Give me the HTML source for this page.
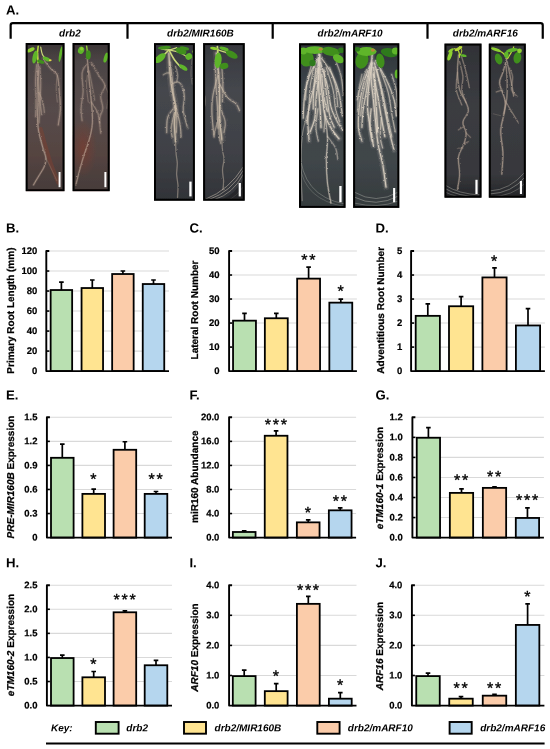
<!DOCTYPE html>
<html lang="en"><head><meta charset="utf-8"><title>Figure</title>
<style>html,body{margin:0;padding:0;background:#fff}svg{display:block}text{font-family:"Liberation Sans",sans-serif;fill:#000;text-rendering:geometricPrecision}</style></head><body>
<svg width="550" height="749" viewBox="0 0 550 749">
<rect width="550" height="749" fill="#fff"/>
<text transform="rotate(0.05 6 14.4)" x="6" y="14.4" font-size="13.2" font-weight="bold">A.</text>
<path d="M10.65 38.8V25.3Q10.65 23.1 12.85 23.1H540.55Q542.75 23.1 542.75 25.3V38.8M127.5 23.1V38.8M272.7 23.1V38.8M427.5 23.1V38.8" fill="none" stroke="#000" stroke-width="2.2"/>
<text transform="rotate(0.05 69.9 36.5)" x="69.9" y="36.5" font-size="10" font-weight="bold" font-style="italic" text-anchor="middle">drb2</text>
<text transform="rotate(0.05 200.4 36.5)" x="200.4" y="36.5" font-size="10" font-weight="bold" font-style="italic" text-anchor="middle">drb2/MIR160B</text>
<text transform="rotate(0.05 350.1 36.5)" x="350.1" y="36.5" font-size="10" font-weight="bold" font-style="italic" text-anchor="middle">drb2/mARF10</text>
<text transform="rotate(0.05 485.3 36.5)" x="485.3" y="36.5" font-size="10" font-weight="bold" font-style="italic" text-anchor="middle">drb2/mARF16</text>
<defs><filter id="soft" x="-2%" y="-2%" width="104%" height="104%"><feGaussianBlur stdDeviation="0.4"/></filter><filter id="rough" x="-5%" y="-5%" width="110%" height="110%"><feTurbulence type="fractalNoise" baseFrequency="0.45" numOctaves="2" seed="3" result="n"/><feDisplacementMap in="SourceGraphic" in2="n" scale="2.2" xChannelSelector="R" yChannelSelector="G"/></filter><linearGradient id="bg1" x1="0" y1="0" x2="0" y2="1"><stop offset="0" stop-color="#3a3435"/><stop offset="0.12" stop-color="#4c4445"/><stop offset="0.45" stop-color="#564b4b"/><stop offset="0.75" stop-color="#554441"/><stop offset="1" stop-color="#463c3a"/></linearGradient><linearGradient id="bg2" x1="0" y1="0" x2="0" y2="1"><stop offset="0" stop-color="#36383d"/><stop offset="0.3" stop-color="#45474d"/><stop offset="0.7" stop-color="#3f4146"/><stop offset="1" stop-color="#313338"/></linearGradient><linearGradient id="bg3" x1="0" y1="0" x2="0" y2="1"><stop offset="0" stop-color="#2c3236"/><stop offset="0.25" stop-color="#3d444a"/><stop offset="0.7" stop-color="#40464a"/><stop offset="1" stop-color="#353b3d"/></linearGradient><linearGradient id="bg4" x1="0" y1="0" x2="0" y2="1"><stop offset="0" stop-color="#303236"/><stop offset="0.4" stop-color="#3b3c41"/><stop offset="0.85" stop-color="#37383c"/><stop offset="1" stop-color="#242528"/></linearGradient><radialGradient id="red1" cx="0.5" cy="0.5" r="0.5"><stop offset="0" stop-color="#8a3a28" stop-opacity="0.5"/><stop offset="1" stop-color="#8a3a28" stop-opacity="0"/></radialGradient></defs>
<g filter="url(#soft)">
<clipPath id="c1"><rect x="25.8" y="43.1" width="38.6" height="148"/></clipPath>
<rect x="25.8" y="43.1" width="38.6" height="148" fill="url(#bg1)"/>
<g clip-path="url(#c1)">
<path d="M40.7 129C41.6 132.1 44.1 141.8 45.9 147.6C47.6 153.5 49 158.3 51 164.2C53.1 170 57.1 179.7 58.3 182.8" fill="none" stroke="#85402f" stroke-width="4" stroke-opacity="0.45" stroke-linecap="round"/>
<g filter="url(#rough)" fill="none" stroke-linecap="round" stroke-linejoin="round">
<path d="M37.6 52.4C37.7 54.8 38.2 62.1 38.2 66.9C38.2 71.7 37.6 76.2 37.6 81.4C37.6 86.6 38.2 92.1 38.2 97.9C38.2 103.8 37.5 111.1 37.6 116.6C37.7 122.1 37.8 125.9 38.6 131.1C39.5 136.2 41.6 143.1 42.8 147.6C44 152.1 45.6 154.9 45.9 158C46.1 161.1 45.5 163.5 44.4 166.2C43.4 169 41.5 171.4 39.7 174.5C37.8 177.6 34.5 183.1 33.5 184.9" stroke="#bfa797" stroke-width="2.5" stroke-opacity="0.1"/>
<path d="M37.6 52.4C37.7 54.8 38.2 62.1 38.2 66.9C38.2 71.7 37.6 76.2 37.6 81.4C37.6 86.6 38.2 92.1 38.2 97.9C38.2 103.8 37.5 111.1 37.6 116.6C37.7 122.1 37.8 125.9 38.6 131.1C39.5 136.2 41.6 143.1 42.8 147.6C44 152.1 45.6 154.9 45.9 158C46.1 161.1 45.5 163.5 44.4 166.2C43.4 169 41.5 171.4 39.7 174.5C37.8 177.6 34.5 183.1 33.5 184.9" stroke="#bfa797" stroke-width="2.1" stroke-opacity="0.2"/>
<path d="M37.6 52.4C37.7 54.8 38.2 62.1 38.2 66.9C38.2 71.7 37.6 76.2 37.6 81.4C37.6 86.6 38.2 92.1 38.2 97.9C38.2 103.8 37.5 111.1 37.6 116.6C37.7 122.1 37.8 125.9 38.6 131.1C39.5 136.2 41.6 143.1 42.8 147.6C44 152.1 45.6 154.9 45.9 158C46.1 161.1 45.5 163.5 44.4 166.2C43.4 169 41.5 171.4 39.7 174.5C37.8 177.6 34.5 183.1 33.5 184.9" stroke="#bfa797" stroke-width="0.8" stroke-opacity="0.8"/>
<path d="M36.6 64.8C36.4 67.6 35.6 75.5 35.5 81.4C35.5 87.3 36.1 94.2 36.1 100C36.2 105.9 35.8 113.8 35.7 116.6" stroke="#bfa797" stroke-width="3.8" stroke-opacity="0.1"/>
<path d="M36.6 64.8C36.4 67.6 35.6 75.5 35.5 81.4C35.5 87.3 36.1 94.2 36.1 100C36.2 105.9 35.8 113.8 35.7 116.6" stroke="#bfa797" stroke-width="1.9" stroke-opacity="0.2"/>
<path d="M36.6 64.8C36.4 67.6 35.6 75.5 35.5 81.4C35.5 87.3 36.1 94.2 36.1 100C36.2 105.9 35.8 113.8 35.7 116.6" stroke="#bfa797" stroke-width="0.7" stroke-opacity="0.6"/>
<path d="M39.7 66.9C39.8 69.7 40.6 77.6 40.7 83.5C40.8 89.3 40.1 96.9 40.3 102.1C40.5 107.3 41.5 112.4 41.7 114.5" stroke="#bfa797" stroke-width="3.8" stroke-opacity="0.1"/>
<path d="M39.7 66.9C39.8 69.7 40.6 77.6 40.7 83.5C40.8 89.3 40.1 96.9 40.3 102.1C40.5 107.3 41.5 112.4 41.7 114.5" stroke="#bfa797" stroke-width="1.9" stroke-opacity="0.2"/>
<path d="M39.7 66.9C39.8 69.7 40.6 77.6 40.7 83.5C40.8 89.3 40.1 96.9 40.3 102.1C40.5 107.3 41.5 112.4 41.7 114.5" stroke="#bfa797" stroke-width="0.7" stroke-opacity="0.6"/>
<path d="M38.2 71C38.3 74.5 38.8 85.5 39 91.7C39.3 97.9 39.7 103.1 39.7 108.3C39.7 113.5 39.1 120.4 39 122.8" stroke="#bfa797" stroke-width="3.4" stroke-opacity="0.1"/>
<path d="M38.2 71C38.3 74.5 38.8 85.5 39 91.7C39.3 97.9 39.7 103.1 39.7 108.3C39.7 113.5 39.1 120.4 39 122.8" stroke="#bfa797" stroke-width="1.7" stroke-opacity="0.2"/>
<path d="M38.2 71C38.3 74.5 38.8 85.5 39 91.7C39.3 97.9 39.7 103.1 39.7 108.3C39.7 113.5 39.1 120.4 39 122.8" stroke="#bfa797" stroke-width="0.6" stroke-opacity="0.6"/>
<path d="M38.6 91.7C39.3 93.5 41.8 98.6 42.8 102.1C43.7 105.5 44.1 110.7 44.4 112.4" stroke="#bfa797" stroke-width="2.9" stroke-opacity="0.1"/>
<path d="M38.6 91.7C39.3 93.5 41.8 98.6 42.8 102.1C43.7 105.5 44.1 110.7 44.4 112.4" stroke="#bfa797" stroke-width="1.5" stroke-opacity="0.2"/>
<path d="M38.6 91.7C39.3 93.5 41.8 98.6 42.8 102.1C43.7 105.5 44.1 110.7 44.4 112.4" stroke="#bfa797" stroke-width="0.6" stroke-opacity="0.6"/>
<path d="M42.8 58.6C44.1 60.4 48.6 66.2 51 69C53.5 71.7 55.9 71.4 57.3 75.2C58.6 79 58.8 86.2 59.3 91.7C59.8 97.3 60.5 102.8 60.4 108.3C60.2 113.8 58.6 122.1 58.3 124.9" stroke="#bfa797" stroke-width="3.8" stroke-opacity="0.1"/>
<path d="M42.8 58.6C44.1 60.4 48.6 66.2 51 69C53.5 71.7 55.9 71.4 57.3 75.2C58.6 79 58.8 86.2 59.3 91.7C59.8 97.3 60.5 102.8 60.4 108.3C60.2 113.8 58.6 122.1 58.3 124.9" stroke="#bfa797" stroke-width="1.9" stroke-opacity="0.2"/>
<path d="M42.8 58.6C44.1 60.4 48.6 66.2 51 69C53.5 71.7 55.9 71.4 57.3 75.2C58.6 79 58.8 86.2 59.3 91.7C59.8 97.3 60.5 102.8 60.4 108.3C60.2 113.8 58.6 122.1 58.3 124.9" stroke="#bfa797" stroke-width="0.7" stroke-opacity="0.8"/>
<path d="M57.3 75.2C57.1 77.3 56.2 83.1 56.2 87.6C56.2 92.1 57.1 99.7 57.3 102.1" stroke="#bfa797" stroke-width="2.9" stroke-opacity="0"/>
<path d="M57.3 75.2C57.1 77.3 56.2 83.1 56.2 87.6C56.2 92.1 57.1 99.7 57.3 102.1" stroke="#bfa797" stroke-width="1.5" stroke-opacity="0.1"/>
<path d="M57.3 75.2C57.1 77.3 56.2 83.1 56.2 87.6C56.2 92.1 57.1 99.7 57.3 102.1" stroke="#bfa797" stroke-width="0.6" stroke-opacity="0.5"/>
<path d="M45.9 158C46.7 159.7 49.2 164.5 51 168.3C52.9 172.1 55.9 178.7 56.8 180.7" stroke="#bfa797" stroke-width="1" stroke-opacity="0"/>
<path d="M45.9 158C46.7 159.7 49.2 164.5 51 168.3C52.9 172.1 55.9 178.7 56.8 180.7" stroke="#bfa797" stroke-width="1.3" stroke-opacity="0.1"/>
<path d="M45.9 158C46.7 159.7 49.2 164.5 51 168.3C52.9 172.1 55.9 178.7 56.8 180.7" stroke="#bfa797" stroke-width="0.5" stroke-opacity="0.3"/>
</g>
<path d="M38.2 46.2C38.1 47.6 37.4 51.7 37.4 54.5C37.4 57.2 38.1 61.4 38.2 62.8" fill="none" stroke="#b7d83a" stroke-width="1.6" stroke-linecap="round"/>
<path d="M40.7 47.2C41 48.5 41.4 52.4 42.4 54.5C43.3 56.6 45.8 58.8 46.5 59.7" fill="none" stroke="#c9d77a" stroke-width="1.2" stroke-linecap="round"/>
<ellipse cx="34.9" cy="57" rx="2.3" ry="6.6" fill="#5fb52a" transform="rotate(12 34.9 57)"/>
<ellipse cx="30.8" cy="49.9" rx="4.1" ry="1.9" fill="#8fd031" transform="rotate(-25 30.8 49.9)"/>
<ellipse cx="46.5" cy="59" rx="4.1" ry="1.9" fill="#5fb52a" transform="rotate(25 46.5 59)"/>
<ellipse cx="40.7" cy="61.7" rx="3.7" ry="1.7" fill="#3f8f1f" transform="rotate(20 40.7 61.7)"/>
<ellipse cx="60.6" cy="54.1" rx="1.4" ry="7.9" fill="#5fb52a" transform="rotate(10 60.6 54.1)"/>
<ellipse cx="50.2" cy="60.3" rx="1.4" ry="1" fill="#e0d848" transform="rotate(0 50.2 60.3)"/>
</g>
<rect x="26.7" y="44" width="36.8" height="146.2" fill="none" stroke="#060606" stroke-width="2"/>
<rect x="58.6" y="172" width="1.9" height="15.2" fill="#fff"/>
<clipPath id="c2"><rect x="72.7" y="43.1" width="36.9" height="148"/></clipPath>
<rect x="72.7" y="43.1" width="36.9" height="148" fill="url(#bg1)"/>
<g clip-path="url(#c2)">
<ellipse cx="83" cy="148" rx="14" ry="30" fill="url(#red1)"/>
<g filter="url(#rough)" fill="none" stroke-linecap="round" stroke-linejoin="round">
<path d="M87.3 58.6C87.6 62.4 88.6 74.1 89.3 81.4C90 88.6 90.9 95.2 91.4 102.1C91.9 109 92.8 116.6 92.4 122.8C92.1 129 90.9 133.5 89.3 139.3C87.8 145.2 84.8 152.4 83.1 158C81.4 163.5 80.2 168 79 172.5C77.8 176.9 76.4 182.8 75.9 184.9" stroke="#bfa797" stroke-width="2.3" stroke-opacity="0.1"/>
<path d="M87.3 58.6C87.6 62.4 88.6 74.1 89.3 81.4C90 88.6 90.9 95.2 91.4 102.1C91.9 109 92.8 116.6 92.4 122.8C92.1 129 90.9 133.5 89.3 139.3C87.8 145.2 84.8 152.4 83.1 158C81.4 163.5 80.2 168 79 172.5C77.8 176.9 76.4 182.8 75.9 184.9" stroke="#bfa797" stroke-width="1.9" stroke-opacity="0.2"/>
<path d="M87.3 58.6C87.6 62.4 88.6 74.1 89.3 81.4C90 88.6 90.9 95.2 91.4 102.1C91.9 109 92.8 116.6 92.4 122.8C92.1 129 90.9 133.5 89.3 139.3C87.8 145.2 84.8 152.4 83.1 158C81.4 163.5 80.2 168 79 172.5C77.8 176.9 76.4 182.8 75.9 184.9" stroke="#bfa797" stroke-width="0.7" stroke-opacity="0.8"/>
<path d="M86.2 64.8C85.5 66.2 82.6 68.6 82.1 73.1C81.6 77.6 83.3 85.9 83.1 91.7C82.9 97.6 81.2 103.5 81.1 108.3C80.9 113.1 81.9 118.6 82.1 120.7" stroke="#bfa797" stroke-width="3.4" stroke-opacity="0.1"/>
<path d="M86.2 64.8C85.5 66.2 82.6 68.6 82.1 73.1C81.6 77.6 83.3 85.9 83.1 91.7C82.9 97.6 81.2 103.5 81.1 108.3C80.9 113.1 81.9 118.6 82.1 120.7" stroke="#bfa797" stroke-width="1.7" stroke-opacity="0.2"/>
<path d="M86.2 64.8C85.5 66.2 82.6 68.6 82.1 73.1C81.6 77.6 83.3 85.9 83.1 91.7C82.9 97.6 81.2 103.5 81.1 108.3C80.9 113.1 81.9 118.6 82.1 120.7" stroke="#bfa797" stroke-width="0.6" stroke-opacity="0.6"/>
<path d="M91.4 62.8C92.6 64.8 96.4 71.4 98.6 75.2C100.9 79 104.5 82.1 104.9 85.5C105.2 89 101.1 92.1 100.7 95.9C100.4 99.7 103 104.5 102.8 108.3C102.6 112.1 100 114.5 99.7 118.6C99.3 122.8 100.5 130.7 100.7 133.1" stroke="#bfa797" stroke-width="3.4" stroke-opacity="0.1"/>
<path d="M91.4 62.8C92.6 64.8 96.4 71.4 98.6 75.2C100.9 79 104.5 82.1 104.9 85.5C105.2 89 101.1 92.1 100.7 95.9C100.4 99.7 103 104.5 102.8 108.3C102.6 112.1 100 114.5 99.7 118.6C99.3 122.8 100.5 130.7 100.7 133.1" stroke="#bfa797" stroke-width="1.7" stroke-opacity="0.2"/>
<path d="M91.4 62.8C92.6 64.8 96.4 71.4 98.6 75.2C100.9 79 104.5 82.1 104.9 85.5C105.2 89 101.1 92.1 100.7 95.9C100.4 99.7 103 104.5 102.8 108.3C102.6 112.1 100 114.5 99.7 118.6C99.3 122.8 100.5 130.7 100.7 133.1" stroke="#bfa797" stroke-width="0.6" stroke-opacity="0.6"/>
<path d="M91.4 102.1C92.4 103.8 96.2 109 97.6 112.4C99 115.9 99.3 121.1 99.7 122.8" stroke="#bfa797" stroke-width="2.9" stroke-opacity="0.1"/>
<path d="M91.4 102.1C92.4 103.8 96.2 109 97.6 112.4C99 115.9 99.3 121.1 99.7 122.8" stroke="#bfa797" stroke-width="1.5" stroke-opacity="0.2"/>
<path d="M91.4 102.1C92.4 103.8 96.2 109 97.6 112.4C99 115.9 99.3 121.1 99.7 122.8" stroke="#bfa797" stroke-width="0.6" stroke-opacity="0.6"/>
<path d="M89.3 71C89.8 73.8 91.6 82.8 92.4 87.6C93.3 92.4 94.2 97.9 94.5 100" stroke="#bfa797" stroke-width="2.9" stroke-opacity="0.1"/>
<path d="M89.3 71C89.8 73.8 91.6 82.8 92.4 87.6C93.3 92.4 94.2 97.9 94.5 100" stroke="#bfa797" stroke-width="1.5" stroke-opacity="0.1"/>
<path d="M89.3 71C89.8 73.8 91.6 82.8 92.4 87.6C93.3 92.4 94.2 97.9 94.5 100" stroke="#bfa797" stroke-width="0.6" stroke-opacity="0.5"/>
<path d="M104.9 85.5C105.4 86.9 107.6 90 108 93.8C108.3 97.6 107.1 105.9 106.9 108.3" stroke="#bfa797" stroke-width="2.5" stroke-opacity="0"/>
<path d="M104.9 85.5C105.4 86.9 107.6 90 108 93.8C108.3 97.6 107.1 105.9 106.9 108.3" stroke="#bfa797" stroke-width="1.3" stroke-opacity="0.1"/>
<path d="M104.9 85.5C105.4 86.9 107.6 90 108 93.8C108.3 97.6 107.1 105.9 106.9 108.3" stroke="#bfa797" stroke-width="0.5" stroke-opacity="0.5"/>
<path d="M88.3 66.9C88 70 86.6 79.7 86.6 85.5C86.6 91.4 88 99.3 88.3 102.1" stroke="#bfa797" stroke-width="2.9" stroke-opacity="0"/>
<path d="M88.3 66.9C88 70 86.6 79.7 86.6 85.5C86.6 91.4 88 99.3 88.3 102.1" stroke="#bfa797" stroke-width="1.5" stroke-opacity="0.1"/>
<path d="M88.3 66.9C88 70 86.6 79.7 86.6 85.5C86.6 91.4 88 99.3 88.3 102.1" stroke="#bfa797" stroke-width="0.6" stroke-opacity="0.5"/>
</g>
<path d="M86.6 46.2C86.8 47.2 87.2 50.3 87.5 52.4C87.7 54.5 88.2 57.6 88.3 58.6" fill="none" stroke="#8fd031" stroke-width="1.4" stroke-linecap="round"/>
<ellipse cx="81.1" cy="50.3" rx="3.1" ry="3.7" fill="#5fb52a" transform="rotate(20 81.1 50.3)"/>
<ellipse cx="88.3" cy="54.9" rx="2.5" ry="4.6" fill="#3f8f1f" transform="rotate(0 88.3 54.9)"/>
<ellipse cx="105.9" cy="57.6" rx="1.9" ry="5.2" fill="#5fb52a" transform="rotate(18 105.9 57.6)"/>
<ellipse cx="81.7" cy="48.7" rx="1.7" ry="1.7" fill="#8fd031" transform="rotate(0 81.7 48.7)"/>
</g>
<rect x="73.6" y="44" width="35.1" height="146.2" fill="none" stroke="#060606" stroke-width="2"/>
<rect x="104.4" y="172" width="2" height="15.2" fill="#fff"/>
<clipPath id="c3"><rect x="154.1" y="43.2" width="40.7" height="157.4"/></clipPath>
<rect x="154.1" y="43.2" width="40.7" height="157.4" fill="url(#bg2)"/>
<g clip-path="url(#c3)">
<g filter="url(#rough)" fill="none" stroke-linecap="round" stroke-linejoin="round">
<path d="M168.9 53.2C169.1 56.5 169.5 66.8 170 73C170.6 79.3 171.3 85.2 172.2 90.7C173.2 96.2 175.2 100.6 175.5 106.1C175.9 111.6 174.4 117.8 174.4 123.7C174.4 129.6 175.4 138.4 175.5 141.3" stroke="#cbbcaa" stroke-width="7.1" stroke-opacity="0.1"/>
<path d="M168.9 53.2C169.1 56.5 169.5 66.8 170 73C170.6 79.3 171.3 85.2 172.2 90.7C173.2 96.2 175.2 100.6 175.5 106.1C175.9 111.6 174.4 117.8 174.4 123.7C174.4 129.6 175.4 138.4 175.5 141.3" stroke="#cbbcaa" stroke-width="3.6" stroke-opacity="0.3"/>
<path d="M168.9 53.2C169.1 56.5 169.5 66.8 170 73C170.6 79.3 171.3 85.2 172.2 90.7C173.2 96.2 175.2 100.6 175.5 106.1C175.9 111.6 174.4 117.8 174.4 123.7C174.4 129.6 175.4 138.4 175.5 141.3" stroke="#cbbcaa" stroke-width="1.4" stroke-opacity="0.9"/>
<path d="M175.5 141.3C175.6 143.5 175.9 150.9 176.2 154.6C176.5 158.2 177.2 160.1 177.3 163.4C177.4 166.7 176.5 170.7 176.6 174.4C176.8 178.1 177.8 181.6 178 185.4C178.1 189.3 177.6 195.5 177.5 197.5" stroke="#cbbcaa" stroke-width="1.4" stroke-opacity="0.1"/>
<path d="M175.5 141.3C175.6 143.5 175.9 150.9 176.2 154.6C176.5 158.2 177.2 160.1 177.3 163.4C177.4 166.7 176.5 170.7 176.6 174.4C176.8 178.1 177.8 181.6 178 185.4C178.1 189.3 177.6 195.5 177.5 197.5" stroke="#cbbcaa" stroke-width="1.4" stroke-opacity="0.2"/>
<path d="M175.5 141.3C175.6 143.5 175.9 150.9 176.2 154.6C176.5 158.2 177.2 160.1 177.3 163.4C177.4 166.7 176.5 170.7 176.6 174.4C176.8 178.1 177.8 181.6 178 185.4C178.1 189.3 177.6 195.5 177.5 197.5" stroke="#cbbcaa" stroke-width="0.5" stroke-opacity="0.6"/>
<path d="M170 73C169.5 73 167.8 72.8 166.7 73C165.6 73.3 164 74.5 163.4 74.8" stroke="#cbbcaa" stroke-width="3.4" stroke-opacity="0.1"/>
<path d="M170 73C169.5 73 167.8 72.8 166.7 73C165.6 73.3 164 74.5 163.4 74.8" stroke="#cbbcaa" stroke-width="1.7" stroke-opacity="0.2"/>
<path d="M170 73C169.5 73 167.8 72.8 166.7 73C165.6 73.3 164 74.5 163.4 74.8" stroke="#cbbcaa" stroke-width="0.6" stroke-opacity="0.7"/>
<path d="M171.8 84.1C172.8 83.7 176 81.5 177.7 81.9C179.5 82.2 181 83.7 182.1 86.3C183.3 88.8 184.2 93.2 184.4 97.3C184.5 101.3 182.7 105.4 183.3 110.5C183.8 115.6 186.9 125.2 187.7 128.1" stroke="#cbbcaa" stroke-width="3.8" stroke-opacity="0.1"/>
<path d="M171.8 84.1C172.8 83.7 176 81.5 177.7 81.9C179.5 82.2 181 83.7 182.1 86.3C183.3 88.8 184.2 93.2 184.4 97.3C184.5 101.3 182.7 105.4 183.3 110.5C183.8 115.6 186.9 125.2 187.7 128.1" stroke="#cbbcaa" stroke-width="1.9" stroke-opacity="0.2"/>
<path d="M171.8 84.1C172.8 83.7 176 81.5 177.7 81.9C179.5 82.2 181 83.7 182.1 86.3C183.3 88.8 184.2 93.2 184.4 97.3C184.5 101.3 182.7 105.4 183.3 110.5C183.8 115.6 186.9 125.2 187.7 128.1" stroke="#cbbcaa" stroke-width="0.7" stroke-opacity="0.8"/>
<path d="M175.5 106.1C174.3 107.9 169.3 112.7 167.8 117.1C166.4 121.5 166.9 130 166.7 132.5" stroke="#cbbcaa" stroke-width="4.2" stroke-opacity="0.1"/>
<path d="M175.5 106.1C174.3 107.9 169.3 112.7 167.8 117.1C166.4 121.5 166.9 130 166.7 132.5" stroke="#cbbcaa" stroke-width="2.1" stroke-opacity="0.2"/>
<path d="M175.5 106.1C174.3 107.9 169.3 112.7 167.8 117.1C166.4 121.5 166.9 130 166.7 132.5" stroke="#cbbcaa" stroke-width="0.8" stroke-opacity="0.8"/>
<path d="M175.5 106.1C176.3 109 179 118.6 179.9 123.7C180.9 128.9 180.9 134.7 181 136.9" stroke="#cbbcaa" stroke-width="4.2" stroke-opacity="0.1"/>
<path d="M175.5 106.1C176.3 109 179 118.6 179.9 123.7C180.9 128.9 180.9 134.7 181 136.9" stroke="#cbbcaa" stroke-width="2.1" stroke-opacity="0.2"/>
<path d="M175.5 106.1C176.3 109 179 118.6 179.9 123.7C180.9 128.9 180.9 134.7 181 136.9" stroke="#cbbcaa" stroke-width="0.8" stroke-opacity="0.8"/>
<path d="M174.4 112.7C173.9 115.3 171.5 124.1 171.1 128.1C170.8 132.2 172.1 135.5 172.2 136.9" stroke="#cbbcaa" stroke-width="3.8" stroke-opacity="0.1"/>
<path d="M174.4 112.7C173.9 115.3 171.5 124.1 171.1 128.1C170.8 132.2 172.1 135.5 172.2 136.9" stroke="#cbbcaa" stroke-width="1.9" stroke-opacity="0.2"/>
<path d="M174.4 112.7C173.9 115.3 171.5 124.1 171.1 128.1C170.8 132.2 172.1 135.5 172.2 136.9" stroke="#cbbcaa" stroke-width="0.7" stroke-opacity="0.8"/>
<path d="M170 62C170.5 65.7 172 77.1 172.7 84.1C173.3 91 173.8 100.6 174 103.9" stroke="#cbbcaa" stroke-width="4.2" stroke-opacity="0.1"/>
<path d="M170 62C170.5 65.7 172 77.1 172.7 84.1C173.3 91 173.8 100.6 174 103.9" stroke="#cbbcaa" stroke-width="2.1" stroke-opacity="0.2"/>
<path d="M170 62C170.5 65.7 172 77.1 172.7 84.1C173.3 91 173.8 100.6 174 103.9" stroke="#cbbcaa" stroke-width="0.8" stroke-opacity="0.8"/>
<path d="M175.5 66.4C175.9 67.9 177.6 72.7 177.7 75.3C177.9 77.8 176.8 80.8 176.6 81.9" stroke="#cbbcaa" stroke-width="2.9" stroke-opacity="0.1"/>
<path d="M175.5 66.4C175.9 67.9 177.6 72.7 177.7 75.3C177.9 77.8 176.8 80.8 176.6 81.9" stroke="#cbbcaa" stroke-width="1.5" stroke-opacity="0.2"/>
<path d="M175.5 66.4C175.9 67.9 177.6 72.7 177.7 75.3C177.9 77.8 176.8 80.8 176.6 81.9" stroke="#cbbcaa" stroke-width="0.6" stroke-opacity="0.6"/>
<path d="M192.1 57.6C191.9 60.2 191 68.6 191 73C191 77.5 191.9 82.2 192.1 84.1" stroke="#cbbcaa" stroke-width="2.5" stroke-opacity="0"/>
<path d="M192.1 57.6C191.9 60.2 191 68.6 191 73C191 77.5 191.9 82.2 192.1 84.1" stroke="#cbbcaa" stroke-width="1.3" stroke-opacity="0.1"/>
<path d="M192.1 57.6C191.9 60.2 191 68.6 191 73C191 77.5 191.9 82.2 192.1 84.1" stroke="#cbbcaa" stroke-width="0.5" stroke-opacity="0.4"/>
<path d="M174 103.9C174.4 106.1 176.3 112.3 176.6 117.1C177 121.9 176.3 130 176.2 132.5" stroke="#cbbcaa" stroke-width="3.8" stroke-opacity="0.1"/>
<path d="M174 103.9C174.4 106.1 176.3 112.3 176.6 117.1C177 121.9 176.3 130 176.2 132.5" stroke="#cbbcaa" stroke-width="1.9" stroke-opacity="0.2"/>
<path d="M174 103.9C174.4 106.1 176.3 112.3 176.6 117.1C177 121.9 176.3 130 176.2 132.5" stroke="#cbbcaa" stroke-width="0.7" stroke-opacity="0.7"/>
</g>
<path d="M168.9 49.9C168 50.8 165.3 53.6 163.4 55.4C161.6 57.3 158.8 60 157.9 60.9" fill="none" stroke="#c9d77a" stroke-width="1.6" stroke-linecap="round"/>
<path d="M168.9 49.9C169.8 51.6 172.4 56.9 174.4 59.8C176.5 62.8 179.9 66.3 181 67.5" fill="none" stroke="#c9d77a" stroke-width="1.6" stroke-linecap="round"/>
<path d="M168.9 49.9C170.6 50.3 175.9 51 178.8 52.1C181.8 53.2 185.3 55.8 186.6 56.5" fill="none" stroke="#c9d77a" stroke-width="1.3" stroke-linecap="round"/>
<path d="M161.2 48.8C162.5 49 166.4 50.1 168.9 49.9C171.5 49.7 175.4 48.1 176.6 47.7" fill="none" stroke="#c9d77a" stroke-width="1.3" stroke-linecap="round"/>
<ellipse cx="160.1" cy="58.1" rx="6.6" ry="3.3" fill="#5fb52a" transform="rotate(-40 160.1 58.1)"/>
<ellipse cx="181" cy="51" rx="5.7" ry="3.1" fill="#3f8f1f" transform="rotate(20 181 51)"/>
<ellipse cx="183.3" cy="67.5" rx="4.8" ry="2" fill="#5fb52a" transform="rotate(35 183.3 67.5)"/>
<ellipse cx="164.5" cy="47.7" rx="6.6" ry="1.8" fill="#3f8f1f" transform="rotate(-5 164.5 47.7)"/>
<ellipse cx="188.8" cy="56.5" rx="3.5" ry="3.1" fill="#5fb52a" transform="rotate(-30 188.8 56.5)"/>
<ellipse cx="184.4" cy="48.4" rx="4.8" ry="1.8" fill="#3f8f1f" transform="rotate(10 184.4 48.4)"/>
<ellipse cx="195.4" cy="52.1" rx="3.1" ry="2.2" fill="#8fd031" transform="rotate(30 195.4 52.1)"/>
</g>
<rect x="155" y="44.1" width="38.9" height="155.6" fill="none" stroke="#060606" stroke-width="2"/>
<rect x="189.3" y="181.6" width="2.3" height="14.8" fill="#fff"/>
<clipPath id="c4"><rect x="203.2" y="43.2" width="41.4" height="157.4"/></clipPath>
<rect x="203.2" y="43.2" width="41.4" height="157.4" fill="url(#bg2)"/>
<g clip-path="url(#c4)">
<g fill="none" stroke="#b0a79c" stroke-opacity="0.75"><path d="M205.5 199.2Q229 190 243.5 166.5" stroke-width="0.9"/><path d="M209 199.5Q231 192 243.5 170" stroke-width="0.9"/><path d="M214.5 199.5Q233 194 243.5 174" stroke-width="0.8"/><path d="M230 199.5Q238 195 243.5 186.5" stroke-width="0.8"/></g><path d="M221 200Q236 194 244 178V200Z" fill="#202124" fill-opacity="0.7"/><ellipse cx="204.2" cy="101" rx="1.6" ry="7" fill="#b5ab9f" fill-opacity="0.5"/>
<g filter="url(#rough)" fill="none" stroke-linecap="round" stroke-linejoin="round">
<path d="M216.3 53.2C216.7 56.5 217.9 66.1 218.5 73C219.1 80 219.4 87.7 219.6 95.1C219.8 102.4 219.2 109.8 219.6 117.1C220 124.5 221.4 135.5 221.8 139.1" stroke="#cbbcaa" stroke-width="7.1" stroke-opacity="0.1"/>
<path d="M216.3 53.2C216.7 56.5 217.9 66.1 218.5 73C219.1 80 219.4 87.7 219.6 95.1C219.8 102.4 219.2 109.8 219.6 117.1C220 124.5 221.4 135.5 221.8 139.1" stroke="#cbbcaa" stroke-width="3.6" stroke-opacity="0.3"/>
<path d="M216.3 53.2C216.7 56.5 217.9 66.1 218.5 73C219.1 80 219.4 87.7 219.6 95.1C219.8 102.4 219.2 109.8 219.6 117.1C220 124.5 221.4 135.5 221.8 139.1" stroke="#cbbcaa" stroke-width="1.4" stroke-opacity="0.9"/>
<path d="M221.8 139.1C221.9 141 222.1 146.9 222.5 150.2C222.8 153.5 224 155.7 224 159C224 162.3 222.5 166.3 222.5 170C222.4 173.7 223.5 177.7 223.6 181C223.6 184.3 223 188.3 222.9 189.8" stroke="#cbbcaa" stroke-width="1.4" stroke-opacity="0.1"/>
<path d="M221.8 139.1C221.9 141 222.1 146.9 222.5 150.2C222.8 153.5 224 155.7 224 159C224 162.3 222.5 166.3 222.5 170C222.4 173.7 223.5 177.7 223.6 181C223.6 184.3 223 188.3 222.9 189.8" stroke="#cbbcaa" stroke-width="1.4" stroke-opacity="0.2"/>
<path d="M221.8 139.1C221.9 141 222.1 146.9 222.5 150.2C222.8 153.5 224 155.7 224 159C224 162.3 222.5 166.3 222.5 170C222.4 173.7 223.5 177.7 223.6 181C223.6 184.3 223 188.3 222.9 189.8" stroke="#cbbcaa" stroke-width="0.5" stroke-opacity="0.6"/>
<path d="M218.5 73C217.6 76.7 214.1 88.5 213 95.1C211.9 101.7 211.7 105.7 211.9 112.7C212.1 119.7 213.7 132.9 214.1 136.9" stroke="#cbbcaa" stroke-width="4.2" stroke-opacity="0.1"/>
<path d="M218.5 73C217.6 76.7 214.1 88.5 213 95.1C211.9 101.7 211.7 105.7 211.9 112.7C212.1 119.7 213.7 132.9 214.1 136.9" stroke="#cbbcaa" stroke-width="2.1" stroke-opacity="0.2"/>
<path d="M218.5 73C217.6 76.7 214.1 88.5 213 95.1C211.9 101.7 211.7 105.7 211.9 112.7C212.1 119.7 213.7 132.9 214.1 136.9" stroke="#cbbcaa" stroke-width="0.8" stroke-opacity="0.8"/>
<path d="M219.6 84.1C220.9 86.3 224.6 94 227.3 97.3C230.1 100.6 234.1 101.7 236.1 103.9C238.1 106.1 238.9 109.4 239.4 110.5" stroke="#cbbcaa" stroke-width="4.6" stroke-opacity="0.1"/>
<path d="M219.6 84.1C220.9 86.3 224.6 94 227.3 97.3C230.1 100.6 234.1 101.7 236.1 103.9C238.1 106.1 238.9 109.4 239.4 110.5" stroke="#cbbcaa" stroke-width="2.3" stroke-opacity="0.2"/>
<path d="M219.6 84.1C220.9 86.3 224.6 94 227.3 97.3C230.1 100.6 234.1 101.7 236.1 103.9C238.1 106.1 238.9 109.4 239.4 110.5" stroke="#cbbcaa" stroke-width="0.9" stroke-opacity="0.8"/>
<path d="M219.6 106.1C220.5 108.7 224.4 117.1 225.1 121.5C225.8 125.9 224.2 130.7 224 132.5" stroke="#cbbcaa" stroke-width="3.8" stroke-opacity="0.1"/>
<path d="M219.6 106.1C220.5 108.7 224.4 117.1 225.1 121.5C225.8 125.9 224.2 130.7 224 132.5" stroke="#cbbcaa" stroke-width="1.9" stroke-opacity="0.2"/>
<path d="M219.6 106.1C220.5 108.7 224.4 117.1 225.1 121.5C225.8 125.9 224.2 130.7 224 132.5" stroke="#cbbcaa" stroke-width="0.7" stroke-opacity="0.8"/>
<path d="M218.5 117.1L214.1 134.7" stroke="#cbbcaa" stroke-width="3.4" stroke-opacity="0.1"/>
<path d="M218.5 117.1L214.1 134.7" stroke="#cbbcaa" stroke-width="1.7" stroke-opacity="0.2"/>
<path d="M218.5 117.1L214.1 134.7" stroke="#cbbcaa" stroke-width="0.6" stroke-opacity="0.7"/>
<path d="M215.2 64.2C215.3 67.5 215.5 77.1 215.9 84.1C216.2 91 217 98.8 217.4 106.1C217.8 113.4 217.9 124.5 218.1 128.1" stroke="#cbbcaa" stroke-width="4.2" stroke-opacity="0.1"/>
<path d="M215.2 64.2C215.3 67.5 215.5 77.1 215.9 84.1C216.2 91 217 98.8 217.4 106.1C217.8 113.4 217.9 124.5 218.1 128.1" stroke="#cbbcaa" stroke-width="2.1" stroke-opacity="0.2"/>
<path d="M215.2 64.2C215.3 67.5 215.5 77.1 215.9 84.1C216.2 91 217 98.8 217.4 106.1C217.8 113.4 217.9 124.5 218.1 128.1" stroke="#cbbcaa" stroke-width="0.8" stroke-opacity="0.8"/>
<path d="M221.8 66.4C222 69.4 222.8 78.2 222.9 84.1C223 89.9 222.5 98.8 222.5 101.7" stroke="#cbbcaa" stroke-width="3.8" stroke-opacity="0.1"/>
<path d="M221.8 66.4C222 69.4 222.8 78.2 222.9 84.1C223 89.9 222.5 98.8 222.5 101.7" stroke="#cbbcaa" stroke-width="1.9" stroke-opacity="0.2"/>
<path d="M221.8 66.4C222 69.4 222.8 78.2 222.9 84.1C223 89.9 222.5 98.8 222.5 101.7" stroke="#cbbcaa" stroke-width="0.7" stroke-opacity="0.8"/>
<path d="M219.6 117.1C219.5 119.7 218.8 128.1 218.9 132.5C219.1 136.9 220.4 141.7 220.7 143.5" stroke="#cbbcaa" stroke-width="3.4" stroke-opacity="0.1"/>
<path d="M219.6 117.1C219.5 119.7 218.8 128.1 218.9 132.5C219.1 136.9 220.4 141.7 220.7 143.5" stroke="#cbbcaa" stroke-width="1.7" stroke-opacity="0.2"/>
<path d="M219.6 117.1C219.5 119.7 218.8 128.1 218.9 132.5C219.1 136.9 220.4 141.7 220.7 143.5" stroke="#cbbcaa" stroke-width="0.6" stroke-opacity="0.7"/>
</g>
<path d="M217.4 46.6C217.5 48.1 217.8 52.5 218.1 55.4C218.3 58.4 218.8 62.8 218.9 64.2" fill="none" stroke="#c9d77a" stroke-width="1.8" stroke-linecap="round"/>
<path d="M218.1 49.9C219.2 50.3 222.8 51.2 225.1 52.1C227.4 53 230.6 54.9 231.7 55.4" fill="none" stroke="#c9d77a" stroke-width="1.3" stroke-linecap="round"/>
<ellipse cx="218.1" cy="60.3" rx="3.5" ry="7.9" fill="#5fb52a" transform="rotate(5 218.1 60.3)"/>
<ellipse cx="231.7" cy="54.5" rx="6.6" ry="3.3" fill="#3f8f1f" transform="rotate(30 231.7 54.5)"/>
<ellipse cx="224" cy="66" rx="4.4" ry="3.1" fill="#3f8f1f" transform="rotate(-10 224 66)"/>
<ellipse cx="214.1" cy="48.4" rx="4" ry="1.5" fill="#8fd031" transform="rotate(10 214.1 48.4)"/>
<ellipse cx="224" cy="48.8" rx="4.8" ry="1.8" fill="#5fb52a" transform="rotate(15 224 48.8)"/>
</g>
<rect x="204.1" y="44.1" width="39.6" height="155.6" fill="none" stroke="#060606" stroke-width="2"/>
<rect x="238.7" y="183" width="2.2" height="13.4" fill="#fff"/>
<clipPath id="c5"><rect x="299.1" y="43.4" width="46.3" height="164.4"/></clipPath>
<rect x="299.1" y="43.4" width="46.3" height="164.4" fill="url(#bg3)"/>
<g clip-path="url(#c5)">
<g fill="none" stroke="#a9aca6" stroke-opacity="0.5"><path d="M300 150Q301 196 345 204" stroke-width="0.8"/><path d="M300 165Q304 200 345 206.5" stroke-width="0.6"/></g>
<g filter="url(#rough)" fill="none" stroke-linecap="round" stroke-linejoin="round">
<path d="M319.4 53.8C319 57.2 318.3 67.9 317.1 74.4C316 80.9 314 85.9 312.5 92.8C311 99.7 308.5 107.7 307.9 115.8C307.4 123.8 308.9 136.8 309.1 141" stroke="#dcd2c2" stroke-width="5.5" stroke-opacity="0.1"/>
<path d="M319.4 53.8C319 57.2 318.3 67.9 317.1 74.4C316 80.9 314 85.9 312.5 92.8C311 99.7 308.5 107.7 307.9 115.8C307.4 123.8 308.9 136.8 309.1 141" stroke="#dcd2c2" stroke-width="2.7" stroke-opacity="0.3"/>
<path d="M319.4 53.8C319 57.2 318.3 67.9 317.1 74.4C316 80.9 314 85.9 312.5 92.8C311 99.7 308.5 107.7 307.9 115.8C307.4 123.8 308.9 136.8 309.1 141" stroke="#dcd2c2" stroke-width="1" stroke-opacity="0.9"/>
<path d="M319.4 53.8C319.2 58 318.8 71.4 318.3 79C317.7 86.7 316.5 93.2 316 99.7C315.4 106.2 315.8 112.7 314.8 118.1C313.9 123.4 311 129.6 310.2 131.8" stroke="#dcd2c2" stroke-width="5.9" stroke-opacity="0.1"/>
<path d="M319.4 53.8C319.2 58 318.8 71.4 318.3 79C317.7 86.7 316.5 93.2 316 99.7C315.4 106.2 315.8 112.7 314.8 118.1C313.9 123.4 311 129.6 310.2 131.8" stroke="#dcd2c2" stroke-width="2.9" stroke-opacity="0.3"/>
<path d="M319.4 53.8C319.2 58 318.8 71.4 318.3 79C317.7 86.7 316.5 93.2 316 99.7C315.4 106.2 315.8 112.7 314.8 118.1C313.9 123.4 311 129.6 310.2 131.8" stroke="#dcd2c2" stroke-width="1.1" stroke-opacity="0.9"/>
<path d="M319.4 53.8C319.6 58.4 320 73.7 320.6 81.3C321.1 89 322.1 94 322.9 99.7C323.6 105.4 323.6 110.8 325.1 115.8C326.7 120.8 329.7 125.7 332 129.6C334.3 133.4 337.8 137.2 338.9 138.7" stroke="#dcd2c2" stroke-width="6.3" stroke-opacity="0.1"/>
<path d="M319.4 53.8C319.6 58.4 320 73.7 320.6 81.3C321.1 89 322.1 94 322.9 99.7C323.6 105.4 323.6 110.8 325.1 115.8C326.7 120.8 329.7 125.7 332 129.6C334.3 133.4 337.8 137.2 338.9 138.7" stroke="#dcd2c2" stroke-width="3.2" stroke-opacity="0.3"/>
<path d="M319.4 53.8C319.6 58.4 320 73.7 320.6 81.3C321.1 89 322.1 94 322.9 99.7C323.6 105.4 323.6 110.8 325.1 115.8C326.7 120.8 329.7 125.7 332 129.6C334.3 133.4 337.8 137.2 338.9 138.7" stroke="#dcd2c2" stroke-width="1.2" stroke-opacity="0.9"/>
<path d="M320.6 63C321.7 66.8 325.7 78.7 327.4 85.9C329.2 93.2 329.4 100.8 330.9 106.6C332.4 112.3 334.7 116.5 336.6 120.4C338.5 124.2 341.4 128 342.4 129.6" stroke="#dcd2c2" stroke-width="5.5" stroke-opacity="0.1"/>
<path d="M320.6 63C321.7 66.8 325.7 78.7 327.4 85.9C329.2 93.2 329.4 100.8 330.9 106.6C332.4 112.3 334.7 116.5 336.6 120.4C338.5 124.2 341.4 128 342.4 129.6" stroke="#dcd2c2" stroke-width="2.7" stroke-opacity="0.3"/>
<path d="M320.6 63C321.7 66.8 325.7 78.7 327.4 85.9C329.2 93.2 329.4 100.8 330.9 106.6C332.4 112.3 334.7 116.5 336.6 120.4C338.5 124.2 341.4 128 342.4 129.6" stroke="#dcd2c2" stroke-width="1" stroke-opacity="0.9"/>
<path d="M321.7 58.4C323.4 61 329.2 68.7 332 74.4C334.9 80.2 337.2 85.9 338.9 92.8C340.6 99.7 341.8 111.9 342.4 115.8" stroke="#dcd2c2" stroke-width="4.6" stroke-opacity="0.1"/>
<path d="M321.7 58.4C323.4 61 329.2 68.7 332 74.4C334.9 80.2 337.2 85.9 338.9 92.8C340.6 99.7 341.8 111.9 342.4 115.8" stroke="#dcd2c2" stroke-width="2.3" stroke-opacity="0.3"/>
<path d="M321.7 58.4C323.4 61 329.2 68.7 332 74.4C334.9 80.2 337.2 85.9 338.9 92.8C340.6 99.7 341.8 111.9 342.4 115.8" stroke="#dcd2c2" stroke-width="0.9" stroke-opacity="0.9"/>
<path d="M318.3 58.4C316.7 61.4 311.4 70.2 309.1 76.7C306.8 83.2 305.4 90.5 304.5 97.4C303.5 104.3 303.5 114.6 303.3 118.1" stroke="#dcd2c2" stroke-width="4.6" stroke-opacity="0.1"/>
<path d="M318.3 58.4C316.7 61.4 311.4 70.2 309.1 76.7C306.8 83.2 305.4 90.5 304.5 97.4C303.5 104.3 303.5 114.6 303.3 118.1" stroke="#dcd2c2" stroke-width="2.3" stroke-opacity="0.3"/>
<path d="M318.3 58.4C316.7 61.4 311.4 70.2 309.1 76.7C306.8 83.2 305.4 90.5 304.5 97.4C303.5 104.3 303.5 114.6 303.3 118.1" stroke="#dcd2c2" stroke-width="0.9" stroke-opacity="0.9"/>
<path d="M322.9 99.7C323.6 105.8 326.9 126.5 327.4 136.4C328 146.4 326.3 151.7 326.3 159.4C326.3 167.1 326.7 175.1 327.4 182.4C328.2 189.6 330.3 199.6 330.9 203" stroke="#dcd2c2" stroke-width="2.1" stroke-opacity="0.1"/>
<path d="M322.9 99.7C323.6 105.8 326.9 126.5 327.4 136.4C328 146.4 326.3 151.7 326.3 159.4C326.3 167.1 326.7 175.1 327.4 182.4C328.2 189.6 330.3 199.6 330.9 203" stroke="#dcd2c2" stroke-width="2.1" stroke-opacity="0.2"/>
<path d="M322.9 99.7C323.6 105.8 326.9 126.5 327.4 136.4C328 146.4 326.3 151.7 326.3 159.4C326.3 167.1 326.7 175.1 327.4 182.4C328.2 189.6 330.3 199.6 330.9 203" stroke="#dcd2c2" stroke-width="0.8" stroke-opacity="0.8"/>
<path d="M306.8 115.8C306 119.2 303.1 127.6 302.2 136.4C301.2 145.2 301 157.9 301 168.6C301 179.3 302 195.4 302.2 200.7" stroke="#dcd2c2" stroke-width="1.2" stroke-opacity="0.1"/>
<path d="M306.8 115.8C306 119.2 303.1 127.6 302.2 136.4C301.2 145.2 301 157.9 301 168.6C301 179.3 302 195.4 302.2 200.7" stroke="#dcd2c2" stroke-width="1.5" stroke-opacity="0.1"/>
<path d="M306.8 115.8C306 119.2 303.1 127.6 302.2 136.4C301.2 145.2 301 157.9 301 168.6C301 179.3 302 195.4 302.2 200.7" stroke="#dcd2c2" stroke-width="0.6" stroke-opacity="0.5"/>
<path d="M318.7 60.7C318.7 64.9 318.5 77.9 318.7 85.9C318.9 94 319.7 102 320.1 108.9C320.5 115.8 320.9 124.2 321 127.3" stroke="#dcd2c2" stroke-width="6.7" stroke-opacity="0.1"/>
<path d="M318.7 60.7C318.7 64.9 318.5 77.9 318.7 85.9C318.9 94 319.7 102 320.1 108.9C320.5 115.8 320.9 124.2 321 127.3" stroke="#dcd2c2" stroke-width="3.4" stroke-opacity="0.3"/>
<path d="M318.7 60.7C318.7 64.9 318.5 77.9 318.7 85.9C318.9 94 319.7 102 320.1 108.9C320.5 115.8 320.9 124.2 321 127.3" stroke="#dcd2c2" stroke-width="1.3" stroke-opacity="0.9"/>
<path d="M316 67.6C315.6 71.4 314.1 83.6 313.7 90.5C313.2 97.4 313.3 105.8 313.2 108.9" stroke="#dcd2c2" stroke-width="5" stroke-opacity="0.1"/>
<path d="M316 67.6C315.6 71.4 314.1 83.6 313.7 90.5C313.2 97.4 313.3 105.8 313.2 108.9" stroke="#dcd2c2" stroke-width="2.5" stroke-opacity="0.3"/>
<path d="M316 67.6C315.6 71.4 314.1 83.6 313.7 90.5C313.2 97.4 313.3 105.8 313.2 108.9" stroke="#dcd2c2" stroke-width="1" stroke-opacity="0.9"/>
<path d="M324 69.9C324.4 73.7 325.3 85.2 326.3 92.8C327.3 100.5 328.4 110 329.7 115.8C331.1 121.5 333.6 125.3 334.3 127.3" stroke="#dcd2c2" stroke-width="5.5" stroke-opacity="0.1"/>
<path d="M324 69.9C324.4 73.7 325.3 85.2 326.3 92.8C327.3 100.5 328.4 110 329.7 115.8C331.1 121.5 333.6 125.3 334.3 127.3" stroke="#dcd2c2" stroke-width="2.7" stroke-opacity="0.3"/>
<path d="M324 69.9C324.4 73.7 325.3 85.2 326.3 92.8C327.3 100.5 328.4 110 329.7 115.8C331.1 121.5 333.6 125.3 334.3 127.3" stroke="#dcd2c2" stroke-width="1" stroke-opacity="0.9"/>
<path d="M329.7 67.6C330.7 70.6 334.1 79.4 335.5 85.9C336.8 92.4 337.4 103.1 337.8 106.6" stroke="#dcd2c2" stroke-width="4.2" stroke-opacity="0.1"/>
<path d="M329.7 67.6C330.7 70.6 334.1 79.4 335.5 85.9C336.8 92.4 337.4 103.1 337.8 106.6" stroke="#dcd2c2" stroke-width="2.1" stroke-opacity="0.2"/>
<path d="M329.7 67.6C330.7 70.6 334.1 79.4 335.5 85.9C336.8 92.4 337.4 103.1 337.8 106.6" stroke="#dcd2c2" stroke-width="0.8" stroke-opacity="0.8"/>
<path d="M336.6 63C337.4 65.3 340.1 71.4 341.2 76.7C342.4 82.1 343.1 92 343.5 95.1" stroke="#dcd2c2" stroke-width="3.8" stroke-opacity="0.1"/>
<path d="M336.6 63C337.4 65.3 340.1 71.4 341.2 76.7C342.4 82.1 343.1 92 343.5 95.1" stroke="#dcd2c2" stroke-width="1.9" stroke-opacity="0.2"/>
<path d="M336.6 63C337.4 65.3 340.1 71.4 341.2 76.7C342.4 82.1 343.1 92 343.5 95.1" stroke="#dcd2c2" stroke-width="0.7" stroke-opacity="0.8"/>
<path d="M311.4 65.3C310.6 68.3 307.7 77.9 306.8 83.6C305.8 89.4 305.8 97 305.6 99.7" stroke="#dcd2c2" stroke-width="3.8" stroke-opacity="0.1"/>
<path d="M311.4 65.3C310.6 68.3 307.7 77.9 306.8 83.6C305.8 89.4 305.8 97 305.6 99.7" stroke="#dcd2c2" stroke-width="1.9" stroke-opacity="0.2"/>
<path d="M311.4 65.3C310.6 68.3 307.7 77.9 306.8 83.6C305.8 89.4 305.8 97 305.6 99.7" stroke="#dcd2c2" stroke-width="0.7" stroke-opacity="0.8"/>
<path d="M317.8 108.9C317.5 111.9 315.9 121.9 316 127.3C316 132.6 317.9 138.7 318.3 141" stroke="#dcd2c2" stroke-width="3.8" stroke-opacity="0.1"/>
<path d="M317.8 108.9C317.5 111.9 315.9 121.9 316 127.3C316 132.6 317.9 138.7 318.3 141" stroke="#dcd2c2" stroke-width="1.9" stroke-opacity="0.2"/>
<path d="M317.8 108.9C317.5 111.9 315.9 121.9 316 127.3C316 132.6 317.9 138.7 318.3 141" stroke="#dcd2c2" stroke-width="0.7" stroke-opacity="0.8"/>
<path d="M325.1 115.8L324 131.8" stroke="#dcd2c2" stroke-width="3.8" stroke-opacity="0.1"/>
<path d="M325.1 115.8L324 131.8" stroke="#dcd2c2" stroke-width="1.9" stroke-opacity="0.2"/>
<path d="M325.1 115.8L324 131.8" stroke="#dcd2c2" stroke-width="0.7" stroke-opacity="0.8"/>
<path d="M314.8 63C314 66.8 311.2 78.7 310.2 85.9C309.3 93.2 309.6 100.5 309.1 106.6C308.5 112.7 307.2 120 306.8 122.7" stroke="#dcd2c2" stroke-width="4.2" stroke-opacity="0.1"/>
<path d="M314.8 63C314 66.8 311.2 78.7 310.2 85.9C309.3 93.2 309.6 100.5 309.1 106.6C308.5 112.7 307.2 120 306.8 122.7" stroke="#dcd2c2" stroke-width="2.1" stroke-opacity="0.2"/>
<path d="M314.8 63C314 66.8 311.2 78.7 310.2 85.9C309.3 93.2 309.6 100.5 309.1 106.6C308.5 112.7 307.2 120 306.8 122.7" stroke="#dcd2c2" stroke-width="0.8" stroke-opacity="0.8"/>
<path d="M321.7 74.4C322.1 78.3 323 91.3 324 97.4C325 103.5 326.9 108.9 327.4 111.2" stroke="#dcd2c2" stroke-width="5" stroke-opacity="0.1"/>
<path d="M321.7 74.4C322.1 78.3 323 91.3 324 97.4C325 103.5 326.9 108.9 327.4 111.2" stroke="#dcd2c2" stroke-width="2.5" stroke-opacity="0.3"/>
<path d="M321.7 74.4C322.1 78.3 323 91.3 324 97.4C325 103.5 326.9 108.9 327.4 111.2" stroke="#dcd2c2" stroke-width="1" stroke-opacity="0.9"/>
<path d="M326.3 67.6C327.4 71.4 331.7 83.6 333.2 90.5C334.7 97.4 334.3 103.5 335.5 108.9C336.6 114.2 339.3 120.4 340.1 122.7" stroke="#dcd2c2" stroke-width="4.2" stroke-opacity="0.1"/>
<path d="M326.3 67.6C327.4 71.4 331.7 83.6 333.2 90.5C334.7 97.4 334.3 103.5 335.5 108.9C336.6 114.2 339.3 120.4 340.1 122.7" stroke="#dcd2c2" stroke-width="2.1" stroke-opacity="0.2"/>
<path d="M326.3 67.6C327.4 71.4 331.7 83.6 333.2 90.5C334.7 97.4 334.3 103.5 335.5 108.9C336.6 114.2 339.3 120.4 340.1 122.7" stroke="#dcd2c2" stroke-width="0.8" stroke-opacity="0.8"/>
<path d="M327.4 136.4C328.8 138.4 333.8 144.1 335.5 147.9C337.2 151.7 337.4 157.5 337.8 159.4" stroke="#dcd2c2" stroke-width="2.9" stroke-opacity="0.1"/>
<path d="M327.4 136.4C328.8 138.4 333.8 144.1 335.5 147.9C337.2 151.7 337.4 157.5 337.8 159.4" stroke="#dcd2c2" stroke-width="1.5" stroke-opacity="0.2"/>
<path d="M327.4 136.4C328.8 138.4 333.8 144.1 335.5 147.9C337.2 151.7 337.4 157.5 337.8 159.4" stroke="#dcd2c2" stroke-width="0.6" stroke-opacity="0.6"/>
</g>
<ellipse cx="306.8" cy="58.8" rx="6.9" ry="7.8" fill="#3f8f1f" transform="rotate(10 306.8 58.8)"/>
<ellipse cx="314.8" cy="50.1" rx="10.1" ry="3.9" fill="#5fb52a" transform="rotate(0 314.8 50.1)"/>
<ellipse cx="330.9" cy="51.5" rx="9.2" ry="4.4" fill="#3f8f1f" transform="rotate(10 330.9 51.5)"/>
<ellipse cx="338.5" cy="58.8" rx="6" ry="3.9" fill="#5fb52a" transform="rotate(30 338.5 58.8)"/>
<ellipse cx="303.3" cy="51" rx="3.7" ry="3.4" fill="#5fb52a" transform="rotate(0 303.3 51)"/>
<ellipse cx="320.6" cy="49.2" rx="2.1" ry="1.4" fill="#b58a3a" transform="rotate(0 320.6 49.2)"/>
<ellipse cx="341.2" cy="50.3" rx="3.2" ry="2.8" fill="#2f7a1c" transform="rotate(0 341.2 50.3)"/>
<ellipse cx="312.5" cy="63" rx="3.2" ry="3.2" fill="#2f7a1c" transform="rotate(0 312.5 63)"/>
</g>
<rect x="300" y="44.3" width="44.5" height="162.6" fill="none" stroke="#060606" stroke-width="2"/>
<rect x="339.3" y="186" width="2.3" height="16.2" fill="#fff"/>
<clipPath id="c6"><rect x="353.2" y="43.4" width="46" height="164.4"/></clipPath>
<rect x="353.2" y="43.4" width="46" height="164.4" fill="url(#bg3)"/>
<g clip-path="url(#c6)">
<g fill="none" stroke="#b5b5ae" stroke-opacity="0.55"><path d="M354 192Q376 205 398.5 192" stroke-width="0.8"/><path d="M354 197Q376 208 398.5 196" stroke-width="0.9"/><path d="M354 203Q378 209 398.5 201" stroke-width="0.7"/></g>
<g filter="url(#rough)" fill="none" stroke-linecap="round" stroke-linejoin="round">
<path d="M372.2 53.8C372 57.6 370.9 69.1 371.1 76.7C371.3 84.4 372.6 92 373.4 99.7C374.1 107.4 374.9 115.4 375.7 122.7C376.4 129.9 376.8 136.4 378 143.3C379.1 150.2 381.2 156.7 382.6 164C383.9 171.3 385.4 183.1 386 187" stroke="#dcd2c2" stroke-width="6.3" stroke-opacity="0.1"/>
<path d="M372.2 53.8C372 57.6 370.9 69.1 371.1 76.7C371.3 84.4 372.6 92 373.4 99.7C374.1 107.4 374.9 115.4 375.7 122.7C376.4 129.9 376.8 136.4 378 143.3C379.1 150.2 381.2 156.7 382.6 164C383.9 171.3 385.4 183.1 386 187" stroke="#dcd2c2" stroke-width="3.2" stroke-opacity="0.3"/>
<path d="M372.2 53.8C372 57.6 370.9 69.1 371.1 76.7C371.3 84.4 372.6 92 373.4 99.7C374.1 107.4 374.9 115.4 375.7 122.7C376.4 129.9 376.8 136.4 378 143.3C379.1 150.2 381.2 156.7 382.6 164C383.9 171.3 385.4 183.1 386 187" stroke="#dcd2c2" stroke-width="1.2" stroke-opacity="0.9"/>
<path d="M371.1 63C369.9 66 366.1 74.4 364.2 81.3C362.3 88.2 360.5 96.6 359.6 104.3C358.6 111.9 358.1 121.1 358.4 127.3C358.8 133.4 361.3 138.7 361.9 141" stroke="#dcd2c2" stroke-width="5.5" stroke-opacity="0.1"/>
<path d="M371.1 63C369.9 66 366.1 74.4 364.2 81.3C362.3 88.2 360.5 96.6 359.6 104.3C358.6 111.9 358.1 121.1 358.4 127.3C358.8 133.4 361.3 138.7 361.9 141" stroke="#dcd2c2" stroke-width="2.7" stroke-opacity="0.3"/>
<path d="M371.1 63C369.9 66 366.1 74.4 364.2 81.3C362.3 88.2 360.5 96.6 359.6 104.3C358.6 111.9 358.1 121.1 358.4 127.3C358.8 133.4 361.3 138.7 361.9 141" stroke="#dcd2c2" stroke-width="1" stroke-opacity="0.9"/>
<path d="M372.2 63C371.6 66.8 369.5 78.3 368.8 85.9C368 93.6 367.2 101.2 367.6 108.9C368 116.5 370.1 125.7 371.1 131.8C372 138 373 143.3 373.4 145.6" stroke="#dcd2c2" stroke-width="6.3" stroke-opacity="0.1"/>
<path d="M372.2 63C371.6 66.8 369.5 78.3 368.8 85.9C368 93.6 367.2 101.2 367.6 108.9C368 116.5 370.1 125.7 371.1 131.8C372 138 373 143.3 373.4 145.6" stroke="#dcd2c2" stroke-width="3.2" stroke-opacity="0.3"/>
<path d="M372.2 63C371.6 66.8 369.5 78.3 368.8 85.9C368 93.6 367.2 101.2 367.6 108.9C368 116.5 370.1 125.7 371.1 131.8C372 138 373 143.3 373.4 145.6" stroke="#dcd2c2" stroke-width="1.2" stroke-opacity="0.9"/>
<path d="M374.5 63C375.5 66.8 378.5 78.3 380.3 85.9C382 93.6 383.3 101.2 384.8 108.9C386.4 116.5 387.9 125 389.4 131.8C391 138.7 393.3 147.2 394 150.2" stroke="#dcd2c2" stroke-width="5.9" stroke-opacity="0.1"/>
<path d="M374.5 63C375.5 66.8 378.5 78.3 380.3 85.9C382 93.6 383.3 101.2 384.8 108.9C386.4 116.5 387.9 125 389.4 131.8C391 138.7 393.3 147.2 394 150.2" stroke="#dcd2c2" stroke-width="2.9" stroke-opacity="0.3"/>
<path d="M374.5 63C375.5 66.8 378.5 78.3 380.3 85.9C382 93.6 383.3 101.2 384.8 108.9C386.4 116.5 387.9 125 389.4 131.8C391 138.7 393.3 147.2 394 150.2" stroke="#dcd2c2" stroke-width="1.1" stroke-opacity="0.9"/>
<path d="M375.7 60.7C377.6 64.1 384.1 74.8 387.1 81.3C390.2 87.8 392.5 94 394 99.7C395.6 105.4 395.9 113.1 396.3 115.8" stroke="#dcd2c2" stroke-width="4.6" stroke-opacity="0.1"/>
<path d="M375.7 60.7C377.6 64.1 384.1 74.8 387.1 81.3C390.2 87.8 392.5 94 394 99.7C395.6 105.4 395.9 113.1 396.3 115.8" stroke="#dcd2c2" stroke-width="2.3" stroke-opacity="0.3"/>
<path d="M375.7 60.7C377.6 64.1 384.1 74.8 387.1 81.3C390.2 87.8 392.5 94 394 99.7C395.6 105.4 395.9 113.1 396.3 115.8" stroke="#dcd2c2" stroke-width="0.9" stroke-opacity="0.9"/>
<path d="M373.4 74.4C374.1 78.3 376.6 90.1 378 97.4C379.3 104.7 380.3 111.6 381.4 118.1C382.6 124.6 384.3 133.4 384.8 136.4" stroke="#dcd2c2" stroke-width="6.3" stroke-opacity="0.1"/>
<path d="M373.4 74.4C374.1 78.3 376.6 90.1 378 97.4C379.3 104.7 380.3 111.6 381.4 118.1C382.6 124.6 384.3 133.4 384.8 136.4" stroke="#dcd2c2" stroke-width="3.2" stroke-opacity="0.3"/>
<path d="M373.4 74.4C374.1 78.3 376.6 90.1 378 97.4C379.3 104.7 380.3 111.6 381.4 118.1C382.6 124.6 384.3 133.4 384.8 136.4" stroke="#dcd2c2" stroke-width="1.2" stroke-opacity="0.9"/>
<path d="M369.9 67.6C369.3 71.4 367.6 83.2 366.5 90.5C365.3 97.8 363.8 105.1 363 111.2C362.3 117.3 362.1 124.6 361.9 127.3" stroke="#dcd2c2" stroke-width="5" stroke-opacity="0.1"/>
<path d="M369.9 67.6C369.3 71.4 367.6 83.2 366.5 90.5C365.3 97.8 363.8 105.1 363 111.2C362.3 117.3 362.1 124.6 361.9 127.3" stroke="#dcd2c2" stroke-width="2.5" stroke-opacity="0.3"/>
<path d="M369.9 67.6C369.3 71.4 367.6 83.2 366.5 90.5C365.3 97.8 363.8 105.1 363 111.2C362.3 117.3 362.1 124.6 361.9 127.3" stroke="#dcd2c2" stroke-width="1" stroke-opacity="0.9"/>
<path d="M373.8 67.6C374.1 71.8 374.7 84.8 375.2 92.8C375.7 100.8 376.4 109.3 376.8 115.8C377.2 122.3 377.4 129.2 377.5 131.8" stroke="#dcd2c2" stroke-width="6.7" stroke-opacity="0.1"/>
<path d="M373.8 67.6C374.1 71.8 374.7 84.8 375.2 92.8C375.7 100.8 376.4 109.3 376.8 115.8C377.2 122.3 377.4 129.2 377.5 131.8" stroke="#dcd2c2" stroke-width="3.4" stroke-opacity="0.3"/>
<path d="M373.8 67.6C374.1 71.8 374.7 84.8 375.2 92.8C375.7 100.8 376.4 109.3 376.8 115.8C377.2 122.3 377.4 129.2 377.5 131.8" stroke="#dcd2c2" stroke-width="1.3" stroke-opacity="0.9"/>
<path d="M366.5 69.9C365.5 72.5 362.3 80.9 360.7 85.9C359.2 90.9 357.9 97.4 357.3 99.7" stroke="#dcd2c2" stroke-width="3.8" stroke-opacity="0.1"/>
<path d="M366.5 69.9C365.5 72.5 362.3 80.9 360.7 85.9C359.2 90.9 357.9 97.4 357.3 99.7" stroke="#dcd2c2" stroke-width="1.9" stroke-opacity="0.2"/>
<path d="M366.5 69.9C365.5 72.5 362.3 80.9 360.7 85.9C359.2 90.9 357.9 97.4 357.3 99.7" stroke="#dcd2c2" stroke-width="0.7" stroke-opacity="0.8"/>
<path d="M380.3 69.9C381.6 73.7 386.4 85.5 388.3 92.8C390.2 100.1 390.6 107 391.7 113.5C392.9 120 394.6 128.8 395.2 131.8" stroke="#dcd2c2" stroke-width="4.2" stroke-opacity="0.1"/>
<path d="M380.3 69.9C381.6 73.7 386.4 85.5 388.3 92.8C390.2 100.1 390.6 107 391.7 113.5C392.9 120 394.6 128.8 395.2 131.8" stroke="#dcd2c2" stroke-width="2.1" stroke-opacity="0.2"/>
<path d="M380.3 69.9C381.6 73.7 386.4 85.5 388.3 92.8C390.2 100.1 390.6 107 391.7 113.5C392.9 120 394.6 128.8 395.2 131.8" stroke="#dcd2c2" stroke-width="0.8" stroke-opacity="0.8"/>
<path d="M391.7 74.4C392.5 77.1 395.4 85.2 396.3 90.5C397.3 95.9 397.3 103.9 397.5 106.6" stroke="#dcd2c2" stroke-width="3.8" stroke-opacity="0.1"/>
<path d="M391.7 74.4C392.5 77.1 395.4 85.2 396.3 90.5C397.3 95.9 397.3 103.9 397.5 106.6" stroke="#dcd2c2" stroke-width="1.9" stroke-opacity="0.2"/>
<path d="M391.7 74.4C392.5 77.1 395.4 85.2 396.3 90.5C397.3 95.9 397.3 103.9 397.5 106.6" stroke="#dcd2c2" stroke-width="0.7" stroke-opacity="0.8"/>
<path d="M371.1 108.9C370.9 111.9 369.7 121.9 369.9 127.3C370.1 132.6 371.8 138.7 372.2 141" stroke="#dcd2c2" stroke-width="5" stroke-opacity="0.1"/>
<path d="M371.1 108.9C370.9 111.9 369.7 121.9 369.9 127.3C370.1 132.6 371.8 138.7 372.2 141" stroke="#dcd2c2" stroke-width="2.5" stroke-opacity="0.3"/>
<path d="M371.1 108.9C370.9 111.9 369.7 121.9 369.9 127.3C370.1 132.6 371.8 138.7 372.2 141" stroke="#dcd2c2" stroke-width="1" stroke-opacity="0.9"/>
<path d="M381.4 118.1C381.2 121.1 380.1 131.5 380.3 136.4C380.4 141.4 382.2 146 382.6 147.9" stroke="#dcd2c2" stroke-width="4.2" stroke-opacity="0.1"/>
<path d="M381.4 118.1C381.2 121.1 380.1 131.5 380.3 136.4C380.4 141.4 382.2 146 382.6 147.9" stroke="#dcd2c2" stroke-width="2.1" stroke-opacity="0.2"/>
<path d="M381.4 118.1C381.2 121.1 380.1 131.5 380.3 136.4C380.4 141.4 382.2 146 382.6 147.9" stroke="#dcd2c2" stroke-width="0.8" stroke-opacity="0.8"/>
<path d="M376.8 69.9C377.8 73.7 380.8 85.2 382.6 92.8C384.3 100.5 385.6 108.5 387.1 115.8C388.7 123 391 133 391.7 136.4" stroke="#dcd2c2" stroke-width="4.6" stroke-opacity="0.1"/>
<path d="M376.8 69.9C377.8 73.7 380.8 85.2 382.6 92.8C384.3 100.5 385.6 108.5 387.1 115.8C388.7 123 391 133 391.7 136.4" stroke="#dcd2c2" stroke-width="2.3" stroke-opacity="0.2"/>
<path d="M376.8 69.9C377.8 73.7 380.8 85.2 382.6 92.8C384.3 100.5 385.6 108.5 387.1 115.8C388.7 123 391 133 391.7 136.4" stroke="#dcd2c2" stroke-width="0.9" stroke-opacity="0.8"/>
<path d="M368.8 72.1C367.8 76 364.4 87.8 363 95.1C361.7 102.4 361.1 112.3 360.7 115.8" stroke="#dcd2c2" stroke-width="4.2" stroke-opacity="0.1"/>
<path d="M368.8 72.1C367.8 76 364.4 87.8 363 95.1C361.7 102.4 361.1 112.3 360.7 115.8" stroke="#dcd2c2" stroke-width="2.1" stroke-opacity="0.2"/>
<path d="M368.8 72.1C367.8 76 364.4 87.8 363 95.1C361.7 102.4 361.1 112.3 360.7 115.8" stroke="#dcd2c2" stroke-width="0.8" stroke-opacity="0.8"/>
<path d="M361.9 74.4C361.3 77.5 359.1 86.7 358.4 92.8C357.8 98.9 357.9 108.1 357.8 111.2" stroke="#dcd2c2" stroke-width="3.4" stroke-opacity="0.1"/>
<path d="M361.9 74.4C361.3 77.5 359.1 86.7 358.4 92.8C357.8 98.9 357.9 108.1 357.8 111.2" stroke="#dcd2c2" stroke-width="1.7" stroke-opacity="0.2"/>
<path d="M361.9 74.4C361.3 77.5 359.1 86.7 358.4 92.8C357.8 98.9 357.9 108.1 357.8 111.2" stroke="#dcd2c2" stroke-width="0.6" stroke-opacity="0.7"/>
</g>
<ellipse cx="361.9" cy="60.2" rx="6.4" ry="8.7" fill="#3f8f1f" transform="rotate(15 361.9 60.2)"/>
<ellipse cx="366.5" cy="51.5" rx="10.1" ry="4.4" fill="#5fb52a" transform="rotate(0 366.5 51.5)"/>
<ellipse cx="380.3" cy="60.7" rx="4.1" ry="7.3" fill="#3f8f1f" transform="rotate(-10 380.3 60.7)"/>
<ellipse cx="389.4" cy="52.6" rx="8.7" ry="4.4" fill="#2f7a1c" transform="rotate(10 389.4 52.6)"/>
<ellipse cx="395.6" cy="51" rx="3.7" ry="3.4" fill="#5fb52a" transform="rotate(0 395.6 51)"/>
<ellipse cx="397" cy="74" rx="2.3" ry="4.6" fill="#5fb52a" transform="rotate(0 397 74)"/>
<ellipse cx="372.9" cy="50.1" rx="2.1" ry="1.6" fill="#b58a3a" transform="rotate(0 372.9 50.1)"/>
<ellipse cx="357.3" cy="49.2" rx="2.8" ry="2.3" fill="#2f7a1c" transform="rotate(0 357.3 49.2)"/>
</g>
<rect x="354.1" y="44.3" width="44.2" height="162.6" fill="none" stroke="#060606" stroke-width="2"/>
<rect x="393.1" y="188" width="2.1" height="14.2" fill="#fff"/>
<clipPath id="c7"><rect x="444.6" y="43.7" width="36.8" height="153.9"/></clipPath>
<rect x="444.6" y="43.7" width="36.8" height="153.9" fill="url(#bg4)"/>
<g clip-path="url(#c7)">
<g fill="none" stroke="#a8a8a2" stroke-opacity="0.6"><path d="M445 185Q458 194 481 195" stroke-width="0.8"/><path d="M445 188.5Q458 196.5 481 197" stroke-width="0.9"/><path d="M445 192Q456 197.5 470 198" stroke-width="0.6"/></g>
<g filter="url(#rough)" fill="none" stroke-linecap="round" stroke-linejoin="round">
<path d="M458.5 55.1C458.4 58 457.3 66.7 457.5 72.4C457.6 78.2 458.2 84.7 459.6 89.8C461.1 94.8 464.7 99.1 466.1 102.7C467.6 106.3 468.8 108.1 468.3 111.4C467.7 114.6 463.2 118.6 462.9 122.2C462.5 125.8 465.9 129.4 466.1 133C466.3 136.6 465.2 139.9 464 143.8C462.7 147.8 459.3 151.8 458.5 156.8C457.8 161.9 459.8 168.7 459.6 174.1C459.5 179.5 457.8 186.7 457.5 189.3" stroke="#b7a595" stroke-width="2.1" stroke-opacity="0.1"/>
<path d="M458.5 55.1C458.4 58 457.3 66.7 457.5 72.4C457.6 78.2 458.2 84.7 459.6 89.8C461.1 94.8 464.7 99.1 466.1 102.7C467.6 106.3 468.8 108.1 468.3 111.4C467.7 114.6 463.2 118.6 462.9 122.2C462.5 125.8 465.9 129.4 466.1 133C466.3 136.6 465.2 139.9 464 143.8C462.7 147.8 459.3 151.8 458.5 156.8C457.8 161.9 459.8 168.7 459.6 174.1C459.5 179.5 457.8 186.7 457.5 189.3" stroke="#b7a595" stroke-width="2.1" stroke-opacity="0.2"/>
<path d="M458.5 55.1C458.4 58 457.3 66.7 457.5 72.4C457.6 78.2 458.2 84.7 459.6 89.8C461.1 94.8 464.7 99.1 466.1 102.7C467.6 106.3 468.8 108.1 468.3 111.4C467.7 114.6 463.2 118.6 462.9 122.2C462.5 125.8 465.9 129.4 466.1 133C466.3 136.6 465.2 139.9 464 143.8C462.7 147.8 459.3 151.8 458.5 156.8C457.8 161.9 459.8 168.7 459.6 174.1C459.5 179.5 457.8 186.7 457.5 189.3" stroke="#b7a595" stroke-width="0.8" stroke-opacity="0.8"/>
<path d="M461.8 57.3C462.5 59.8 464.9 67.4 466.1 72.4C467.4 77.5 468.8 85.1 469.4 87.6" stroke="#b7a595" stroke-width="1.7" stroke-opacity="0.1"/>
<path d="M461.8 57.3C462.5 59.8 464.9 67.4 466.1 72.4C467.4 77.5 468.8 85.1 469.4 87.6" stroke="#b7a595" stroke-width="1.7" stroke-opacity="0.2"/>
<path d="M461.8 57.3C462.5 59.8 464.9 67.4 466.1 72.4C467.4 77.5 468.8 85.1 469.4 87.6" stroke="#b7a595" stroke-width="0.6" stroke-opacity="0.7"/>
<path d="M457.5 72.4C457.3 75.3 455.7 84.3 456.4 89.8C457.1 95.2 460.9 102.4 461.8 104.9" stroke="#b7a595" stroke-width="1.7" stroke-opacity="0.1"/>
<path d="M457.5 72.4C457.3 75.3 455.7 84.3 456.4 89.8C457.1 95.2 460.9 102.4 461.8 104.9" stroke="#b7a595" stroke-width="1.7" stroke-opacity="0.2"/>
<path d="M457.5 72.4C457.3 75.3 455.7 84.3 456.4 89.8C457.1 95.2 460.9 102.4 461.8 104.9" stroke="#b7a595" stroke-width="0.6" stroke-opacity="0.7"/>
<path d="M459.6 61.6C460.2 64.2 462.5 72.1 462.9 76.8C463.2 81.5 461.3 85.4 461.8 89.8C462.3 94.1 465.4 100.6 466.1 102.7" stroke="#b7a595" stroke-width="1.7" stroke-opacity="0.1"/>
<path d="M459.6 61.6C460.2 64.2 462.5 72.1 462.9 76.8C463.2 81.5 461.3 85.4 461.8 89.8C462.3 94.1 465.4 100.6 466.1 102.7" stroke="#b7a595" stroke-width="1.7" stroke-opacity="0.2"/>
<path d="M459.6 61.6C460.2 64.2 462.5 72.1 462.9 76.8C463.2 81.5 461.3 85.4 461.8 89.8C462.3 94.1 465.4 100.6 466.1 102.7" stroke="#b7a595" stroke-width="0.6" stroke-opacity="0.7"/>
<path d="M466.1 133L470.4 137.3" stroke="#b7a595" stroke-width="2.5" stroke-opacity="0.1"/>
<path d="M466.1 133L470.4 137.3" stroke="#b7a595" stroke-width="1.3" stroke-opacity="0.2"/>
<path d="M466.1 133L470.4 137.3" stroke="#b7a595" stroke-width="0.5" stroke-opacity="0.6"/>
<path d="M464 126.5L458.5 129.8" stroke="#b7a595" stroke-width="2.5" stroke-opacity="0.1"/>
<path d="M464 126.5L458.5 129.8" stroke="#b7a595" stroke-width="1.3" stroke-opacity="0.2"/>
<path d="M464 126.5L458.5 129.8" stroke="#b7a595" stroke-width="0.5" stroke-opacity="0.6"/>
<path d="M464 143.8L468.3 141.7" stroke="#b7a595" stroke-width="2.5" stroke-opacity="0.1"/>
<path d="M464 143.8L468.3 141.7" stroke="#b7a595" stroke-width="1.3" stroke-opacity="0.2"/>
<path d="M464 143.8L468.3 141.7" stroke="#b7a595" stroke-width="0.5" stroke-opacity="0.6"/>
<path d="M462.9 148.2L457.5 148.2" stroke="#b7a595" stroke-width="2.1" stroke-opacity="0.1"/>
<path d="M462.9 148.2L457.5 148.2" stroke="#b7a595" stroke-width="1.1" stroke-opacity="0.1"/>
<path d="M462.9 148.2L457.5 148.2" stroke="#b7a595" stroke-width="0.4" stroke-opacity="0.5"/>
</g>
<path d="M459.6 57.3C459.5 56.2 459.5 52.3 458.5 50.8C457.6 49.4 454.9 49 454.2 48.7" fill="none" stroke="#b7d83a" stroke-width="1.2" stroke-linecap="round"/>
<path d="M459.6 56.2C460 55.3 461.8 52.4 461.8 50.8C461.8 49.2 460 47.2 459.6 46.5" fill="none" stroke="#b7d83a" stroke-width="1" stroke-linecap="round"/>
<ellipse cx="449.9" cy="55.6" rx="1.9" ry="5.2" fill="#8fd031" transform="rotate(20 449.9 55.6)"/>
<ellipse cx="458.5" cy="48.7" rx="4.3" ry="1.5" fill="#b7d83a" transform="rotate(-30 458.5 48.7)"/>
<ellipse cx="463.5" cy="55.6" rx="3.2" ry="1.3" fill="#5fb52a" transform="rotate(10 463.5 55.6)"/>
<ellipse cx="451" cy="50.4" rx="3.2" ry="1.3" fill="#8fd031" transform="rotate(-35 451 50.4)"/>
</g>
<rect x="445.5" y="44.6" width="35" height="152.1" fill="none" stroke="#060606" stroke-width="2"/>
<rect x="475.4" y="179.8" width="2.2" height="14.2" fill="#fff"/>
<clipPath id="c8"><rect x="488.9" y="43.7" width="36.8" height="153.9"/></clipPath>
<rect x="488.9" y="43.7" width="36.8" height="153.9" fill="url(#bg4)"/>
<g clip-path="url(#c8)">
<g fill="none" stroke="#a8a8a2" stroke-opacity="0.6"><path d="M489.5 191Q510 190 525 172" stroke-width="0.8"/><path d="M489.5 194Q512 193 525 177" stroke-width="0.9"/><path d="M489.5 197Q514 196 525 183" stroke-width="0.6"/></g>
<g filter="url(#rough)" fill="none" stroke-linecap="round" stroke-linejoin="round">
<path d="M507.2 57.3C506.5 59.8 504.2 68.1 502.9 72.4C501.6 76.8 499.3 78.6 499.6 83.3C500 87.9 504.3 95.5 505.1 100.6C505.8 105.6 504.7 108.5 504 113.5C503.3 118.6 500.9 124.4 500.7 130.9C500.5 137.3 502.7 145.3 502.9 152.5C503.1 159.7 502 170.5 501.8 174.1" stroke="#b7a595" stroke-width="2.3" stroke-opacity="0.1"/>
<path d="M507.2 57.3C506.5 59.8 504.2 68.1 502.9 72.4C501.6 76.8 499.3 78.6 499.6 83.3C500 87.9 504.3 95.5 505.1 100.6C505.8 105.6 504.7 108.5 504 113.5C503.3 118.6 500.9 124.4 500.7 130.9C500.5 137.3 502.7 145.3 502.9 152.5C503.1 159.7 502 170.5 501.8 174.1" stroke="#b7a595" stroke-width="2.3" stroke-opacity="0.2"/>
<path d="M507.2 57.3C506.5 59.8 504.2 68.1 502.9 72.4C501.6 76.8 499.3 78.6 499.6 83.3C500 87.9 504.3 95.5 505.1 100.6C505.8 105.6 504.7 108.5 504 113.5C503.3 118.6 500.9 124.4 500.7 130.9C500.5 137.3 502.7 145.3 502.9 152.5C503.1 159.7 502 170.5 501.8 174.1" stroke="#b7a595" stroke-width="0.9" stroke-opacity="0.8"/>
<path d="M507.2 61.6C507.9 65.2 510.5 77.5 511.5 83.3C512.6 89 513.3 94.1 513.7 96.2" stroke="#b7a595" stroke-width="1.9" stroke-opacity="0.1"/>
<path d="M507.2 61.6C507.9 65.2 510.5 77.5 511.5 83.3C512.6 89 513.3 94.1 513.7 96.2" stroke="#b7a595" stroke-width="1.9" stroke-opacity="0.2"/>
<path d="M507.2 61.6C507.9 65.2 510.5 77.5 511.5 83.3C512.6 89 513.3 94.1 513.7 96.2" stroke="#b7a595" stroke-width="0.7" stroke-opacity="0.8"/>
<path d="M505.1 100.6C506.1 102.4 509.4 107.8 511.5 111.4C513.7 115 517 120.4 518 122.2" stroke="#b7a595" stroke-width="1.7" stroke-opacity="0.1"/>
<path d="M505.1 100.6C506.1 102.4 509.4 107.8 511.5 111.4C513.7 115 517 120.4 518 122.2" stroke="#b7a595" stroke-width="1.7" stroke-opacity="0.2"/>
<path d="M505.1 100.6C506.1 102.4 509.4 107.8 511.5 111.4C513.7 115 517 120.4 518 122.2" stroke="#b7a595" stroke-width="0.6" stroke-opacity="0.7"/>
<path d="M502.9 89.8L496.4 91.9" stroke="#b7a595" stroke-width="2.9" stroke-opacity="0.1"/>
<path d="M502.9 89.8L496.4 91.9" stroke="#b7a595" stroke-width="1.5" stroke-opacity="0.2"/>
<path d="M502.9 89.8L496.4 91.9" stroke="#b7a595" stroke-width="0.6" stroke-opacity="0.6"/>
<path d="M506.1 66C506.3 68.8 507.1 77.9 507.2 83.3C507.3 88.7 507.3 93.4 506.8 98.4C506.2 103.5 504.4 111 504 113.5" stroke="#b7a595" stroke-width="1.9" stroke-opacity="0.1"/>
<path d="M506.1 66C506.3 68.8 507.1 77.9 507.2 83.3C507.3 88.7 507.3 93.4 506.8 98.4C506.2 103.5 504.4 111 504 113.5" stroke="#b7a595" stroke-width="1.9" stroke-opacity="0.2"/>
<path d="M506.1 66C506.3 68.8 507.1 77.9 507.2 83.3C507.3 88.7 507.3 93.4 506.8 98.4C506.2 103.5 504.4 111 504 113.5" stroke="#b7a595" stroke-width="0.7" stroke-opacity="0.8"/>
<path d="M509.4 68.1C509.9 69.6 512.3 73.2 512.6 76.8C513 80.4 510.8 86.5 511.5 89.8C512.3 93 516.1 95.2 517 96.2" stroke="#b7a595" stroke-width="2.9" stroke-opacity="0.1"/>
<path d="M509.4 68.1C509.9 69.6 512.3 73.2 512.6 76.8C513 80.4 510.8 86.5 511.5 89.8C512.3 93 516.1 95.2 517 96.2" stroke="#b7a595" stroke-width="1.5" stroke-opacity="0.2"/>
<path d="M509.4 68.1C509.9 69.6 512.3 73.2 512.6 76.8C513 80.4 510.8 86.5 511.5 89.8C512.3 93 516.1 95.2 517 96.2" stroke="#b7a595" stroke-width="0.6" stroke-opacity="0.6"/>
<path d="M500.7 115.7L492.1 113.5" stroke="#b7a595" stroke-width="2.1" stroke-opacity="0"/>
<path d="M500.7 115.7L492.1 113.5" stroke="#b7a595" stroke-width="1.1" stroke-opacity="0.1"/>
<path d="M500.7 115.7L492.1 113.5" stroke="#b7a595" stroke-width="0.4" stroke-opacity="0.4"/>
</g>
<path d="M507.2 58.4C506.5 57.5 505 54.6 502.9 53C500.8 51.4 496 49.4 494.7 48.7" fill="none" stroke="#b7d83a" stroke-width="1.2" stroke-linecap="round"/>
<path d="M507.7 58.4C508.3 57.3 510.5 53.8 511.5 51.9C512.6 50 513.3 47.8 513.7 46.9" fill="none" stroke="#b7d83a" stroke-width="1.2" stroke-linecap="round"/>
<ellipse cx="498.6" cy="59" rx="3.5" ry="5.6" fill="#3f8f1f" transform="rotate(-20 498.6 59)"/>
<ellipse cx="496" cy="49.7" rx="5.2" ry="1.5" fill="#8fd031" transform="rotate(20 496 49.7)"/>
<ellipse cx="517.4" cy="57.7" rx="3.9" ry="5.8" fill="#3f8f1f" transform="rotate(10 517.4 57.7)"/>
<ellipse cx="512" cy="50.2" rx="6.1" ry="1.9" fill="#5fb52a" transform="rotate(-10 512 50.2)"/>
<ellipse cx="519.5" cy="50.8" rx="2.4" ry="2.4" fill="#8fd031" transform="rotate(0 519.5 50.8)"/>
<ellipse cx="506.4" cy="54.7" rx="2.2" ry="3.2" fill="#5fb52a" transform="rotate(0 506.4 54.7)"/>
</g>
<rect x="489.8" y="44.6" width="35" height="152.1" fill="none" stroke="#060606" stroke-width="2"/>
<rect x="519.9" y="181" width="2.1" height="13" fill="#fff"/>
</g>
<g>
<text transform="rotate(0.05 6 232.4)" x="6" y="232.4" font-size="13.2" font-weight="bold">B.</text>
<line x1="49.3" x2="169" y1="351.08" y2="351.08" stroke="#d9d9d9" stroke-width="1.1"/>
<line x1="49.3" x2="169" y1="331.07" y2="331.07" stroke="#d9d9d9" stroke-width="1.1"/>
<line x1="49.3" x2="169" y1="311.05" y2="311.05" stroke="#d9d9d9" stroke-width="1.1"/>
<line x1="49.3" x2="169" y1="291.03" y2="291.03" stroke="#d9d9d9" stroke-width="1.1"/>
<line x1="49.3" x2="169" y1="271.02" y2="271.02" stroke="#d9d9d9" stroke-width="1.1"/>
<line x1="49.3" x2="169" y1="251" y2="251" stroke="#d9d9d9" stroke-width="1.1"/>
<rect x="50.65" y="290.03" width="21.5" height="81.07" fill="#b9e0b1" stroke="#000" stroke-width="1.8"/>
<rect x="81.55" y="288.03" width="21.5" height="83.07" fill="#ffe491" stroke="#000" stroke-width="1.8"/>
<rect x="112.15" y="274.02" width="21.5" height="97.08" fill="#fbccaa" stroke="#000" stroke-width="1.8"/>
<rect x="142.75" y="284.03" width="21.5" height="87.07" fill="#b5d6ee" stroke="#000" stroke-width="1.8"/>
<path d="M61.4 290.03V282.03M59.1 282.03H63.7" stroke="#000" stroke-width="1.7" fill="none"/>
<path d="M92.3 288.03V280.02M90 280.02H94.6" stroke="#000" stroke-width="1.7" fill="none"/>
<path d="M122.9 274.02V271.02M120.6 271.02H125.2" stroke="#000" stroke-width="1.7" fill="none"/>
<path d="M153.5 284.03V280.02M151.2 280.02H155.8" stroke="#000" stroke-width="1.7" fill="none"/>
<path d="M49.3 251H46.3V371.1H169" stroke="#000" stroke-width="1.9" fill="none" stroke-linejoin="round"/>
<text transform="rotate(0.05 37.3 374.1)" x="37.3" y="374.1" font-size="9.5" font-weight="bold" stroke="#000" stroke-width="0.2" text-anchor="end">0</text>
<line x1="46.3" x2="49.3" y1="351.08" y2="351.08" stroke="#000" stroke-width="1.6"/>
<text transform="rotate(0.05 37.3 354.08)" x="37.3" y="354.08" font-size="9.5" font-weight="bold" stroke="#000" stroke-width="0.2" text-anchor="end">20</text>
<line x1="46.3" x2="49.3" y1="331.07" y2="331.07" stroke="#000" stroke-width="1.6"/>
<text transform="rotate(0.05 37.3 334.07)" x="37.3" y="334.07" font-size="9.5" font-weight="bold" stroke="#000" stroke-width="0.2" text-anchor="end">40</text>
<line x1="46.3" x2="49.3" y1="311.05" y2="311.05" stroke="#000" stroke-width="1.6"/>
<text transform="rotate(0.05 37.3 314.05)" x="37.3" y="314.05" font-size="9.5" font-weight="bold" stroke="#000" stroke-width="0.2" text-anchor="end">60</text>
<line x1="46.3" x2="49.3" y1="291.03" y2="291.03" stroke="#000" stroke-width="1.6"/>
<text transform="rotate(0.05 37.3 294.03)" x="37.3" y="294.03" font-size="9.5" font-weight="bold" stroke="#000" stroke-width="0.2" text-anchor="end">80</text>
<line x1="46.3" x2="49.3" y1="271.02" y2="271.02" stroke="#000" stroke-width="1.6"/>
<text transform="rotate(0.05 37.3 274.02)" x="37.3" y="274.02" font-size="9.5" font-weight="bold" stroke="#000" stroke-width="0.2" text-anchor="end">100</text>
<text transform="rotate(0.05 37.3 254)" x="37.3" y="254" font-size="9.5" font-weight="bold" stroke="#000" stroke-width="0.2" text-anchor="end">120</text>
<text transform="translate(13.6 310.6) rotate(-90)" font-size="10" font-weight="bold" stroke="#000" stroke-width="0.25" text-anchor="middle">Primary Root Length (mm)</text>
</g>
<g>
<text transform="rotate(0.05 189.4 232.4)" x="189.4" y="232.4" font-size="13.2" font-weight="bold">C.</text>
<line x1="232.1" x2="356.9" y1="347.08" y2="347.08" stroke="#d9d9d9" stroke-width="1.1"/>
<line x1="232.1" x2="356.9" y1="323.06" y2="323.06" stroke="#d9d9d9" stroke-width="1.1"/>
<line x1="232.1" x2="356.9" y1="299.04" y2="299.04" stroke="#d9d9d9" stroke-width="1.1"/>
<line x1="232.1" x2="356.9" y1="275.02" y2="275.02" stroke="#d9d9d9" stroke-width="1.1"/>
<line x1="232.1" x2="356.9" y1="251" y2="251" stroke="#d9d9d9" stroke-width="1.1"/>
<rect x="233.05" y="320.66" width="22.9" height="50.44" fill="#b9e0b1" stroke="#000" stroke-width="1.8"/>
<rect x="264.85" y="318.26" width="22.9" height="52.84" fill="#ffe491" stroke="#000" stroke-width="1.8"/>
<rect x="297.15" y="278.62" width="22.9" height="92.48" fill="#fbccaa" stroke="#000" stroke-width="1.8"/>
<rect x="329.35" y="302.64" width="22.9" height="68.46" fill="#b5d6ee" stroke="#000" stroke-width="1.8"/>
<path d="M244.5 320.66V313.45M242.2 313.45H246.8" stroke="#000" stroke-width="1.7" fill="none"/>
<path d="M276.3 318.26V313.45M274 313.45H278.6" stroke="#000" stroke-width="1.7" fill="none"/>
<path d="M308.6 278.62V267.09M306.3 267.09H310.9" stroke="#000" stroke-width="1.7" fill="none"/>
<path d="M340.8 302.64V299.04M338.5 299.04H343.1" stroke="#000" stroke-width="1.7" fill="none"/>
<path d="M232.1 251H229.1V371.1H356.9" stroke="#000" stroke-width="1.9" fill="none" stroke-linejoin="round"/>
<text transform="rotate(0.05 219.5 374.1)" x="219.5" y="374.1" font-size="9.5" font-weight="bold" stroke="#000" stroke-width="0.2" text-anchor="end">0</text>
<line x1="229.1" x2="232.1" y1="347.08" y2="347.08" stroke="#000" stroke-width="1.6"/>
<text transform="rotate(0.05 219.5 350.08)" x="219.5" y="350.08" font-size="9.5" font-weight="bold" stroke="#000" stroke-width="0.2" text-anchor="end">10</text>
<line x1="229.1" x2="232.1" y1="323.06" y2="323.06" stroke="#000" stroke-width="1.6"/>
<text transform="rotate(0.05 219.5 326.06)" x="219.5" y="326.06" font-size="9.5" font-weight="bold" stroke="#000" stroke-width="0.2" text-anchor="end">20</text>
<line x1="229.1" x2="232.1" y1="299.04" y2="299.04" stroke="#000" stroke-width="1.6"/>
<text transform="rotate(0.05 219.5 302.04)" x="219.5" y="302.04" font-size="9.5" font-weight="bold" stroke="#000" stroke-width="0.2" text-anchor="end">30</text>
<line x1="229.1" x2="232.1" y1="275.02" y2="275.02" stroke="#000" stroke-width="1.6"/>
<text transform="rotate(0.05 219.5 278.02)" x="219.5" y="278.02" font-size="9.5" font-weight="bold" stroke="#000" stroke-width="0.2" text-anchor="end">40</text>
<text transform="rotate(0.05 219.5 254)" x="219.5" y="254" font-size="9.5" font-weight="bold" stroke="#000" stroke-width="0.2" text-anchor="end">50</text>
<text transform="translate(198 310) rotate(-90)" font-size="10" font-weight="bold" stroke="#000" stroke-width="0.25" text-anchor="middle">Lateral Root Number</text>
<text transform="rotate(0.05 309.16 265.3)" x="309.16" y="265.3" font-size="16" stroke="#000" stroke-width="0.35" letter-spacing="1.72" text-anchor="middle">**</text>
<text transform="rotate(0.05 341.36 296.6)" x="341.36" y="296.6" font-size="16" stroke="#000" stroke-width="0.35" letter-spacing="1.72" text-anchor="middle">*</text>
</g>
<g>
<text transform="rotate(0.05 375.4 232.4)" x="375.4" y="232.4" font-size="13.2" font-weight="bold">D.</text>
<line x1="414.1" x2="544.9" y1="347.08" y2="347.08" stroke="#d9d9d9" stroke-width="1.1"/>
<line x1="414.1" x2="544.9" y1="323.06" y2="323.06" stroke="#d9d9d9" stroke-width="1.1"/>
<line x1="414.1" x2="544.9" y1="299.04" y2="299.04" stroke="#d9d9d9" stroke-width="1.1"/>
<line x1="414.1" x2="544.9" y1="275.02" y2="275.02" stroke="#d9d9d9" stroke-width="1.1"/>
<line x1="414.1" x2="544.9" y1="251" y2="251" stroke="#d9d9d9" stroke-width="1.1"/>
<rect x="415.7" y="315.85" width="24.2" height="55.25" fill="#b9e0b1" stroke="#000" stroke-width="1.8"/>
<rect x="449" y="306.25" width="24.2" height="64.85" fill="#ffe491" stroke="#000" stroke-width="1.8"/>
<rect x="482.4" y="277.42" width="24.2" height="93.68" fill="#fbccaa" stroke="#000" stroke-width="1.8"/>
<rect x="515.9" y="325.46" width="24.2" height="45.64" fill="#b5d6ee" stroke="#000" stroke-width="1.8"/>
<path d="M427.8 315.85V303.84M425.5 303.84H430.1" stroke="#000" stroke-width="1.7" fill="none"/>
<path d="M461.1 306.25V296.64M458.8 296.64H463.4" stroke="#000" stroke-width="1.7" fill="none"/>
<path d="M494.5 277.42V267.81M492.2 267.81H496.8" stroke="#000" stroke-width="1.7" fill="none"/>
<path d="M528 325.46V308.65M525.7 308.65H530.3" stroke="#000" stroke-width="1.7" fill="none"/>
<path d="M414.1 251H411.1V371.1H544.9" stroke="#000" stroke-width="1.9" fill="none" stroke-linejoin="round"/>
<text transform="rotate(0.05 402.4 374.1)" x="402.4" y="374.1" font-size="9.5" font-weight="bold" stroke="#000" stroke-width="0.2" text-anchor="end">0</text>
<line x1="411.1" x2="414.1" y1="347.08" y2="347.08" stroke="#000" stroke-width="1.6"/>
<text transform="rotate(0.05 402.4 350.08)" x="402.4" y="350.08" font-size="9.5" font-weight="bold" stroke="#000" stroke-width="0.2" text-anchor="end">1</text>
<line x1="411.1" x2="414.1" y1="323.06" y2="323.06" stroke="#000" stroke-width="1.6"/>
<text transform="rotate(0.05 402.4 326.06)" x="402.4" y="326.06" font-size="9.5" font-weight="bold" stroke="#000" stroke-width="0.2" text-anchor="end">2</text>
<line x1="411.1" x2="414.1" y1="299.04" y2="299.04" stroke="#000" stroke-width="1.6"/>
<text transform="rotate(0.05 402.4 302.04)" x="402.4" y="302.04" font-size="9.5" font-weight="bold" stroke="#000" stroke-width="0.2" text-anchor="end">3</text>
<line x1="411.1" x2="414.1" y1="275.02" y2="275.02" stroke="#000" stroke-width="1.6"/>
<text transform="rotate(0.05 402.4 278.02)" x="402.4" y="278.02" font-size="9.5" font-weight="bold" stroke="#000" stroke-width="0.2" text-anchor="end">4</text>
<text transform="rotate(0.05 402.4 254)" x="402.4" y="254" font-size="9.5" font-weight="bold" stroke="#000" stroke-width="0.2" text-anchor="end">5</text>
<text transform="translate(384 310.3) rotate(-90)" font-size="10" font-weight="bold" stroke="#000" stroke-width="0.25" text-anchor="middle">Adventitious Root Number</text>
<text transform="rotate(0.05 495.06 266.4)" x="495.06" y="266.4" font-size="16" stroke="#000" stroke-width="0.35" letter-spacing="1.72" text-anchor="middle">*</text>
</g>
<g>
<text transform="rotate(0.05 6 399.4)" x="6" y="399.4" font-size="13.2" font-weight="bold">E.</text>
<line x1="49.9" x2="172" y1="513.54" y2="513.54" stroke="#d9d9d9" stroke-width="1.1"/>
<line x1="49.9" x2="172" y1="489.48" y2="489.48" stroke="#d9d9d9" stroke-width="1.1"/>
<line x1="49.9" x2="172" y1="465.42" y2="465.42" stroke="#d9d9d9" stroke-width="1.1"/>
<line x1="49.9" x2="172" y1="441.36" y2="441.36" stroke="#d9d9d9" stroke-width="1.1"/>
<line x1="49.9" x2="172" y1="417.3" y2="417.3" stroke="#d9d9d9" stroke-width="1.1"/>
<rect x="51" y="457.8" width="22.6" height="79.8" fill="#b9e0b1" stroke="#000" stroke-width="1.8"/>
<rect x="82.4" y="493.89" width="22.6" height="43.71" fill="#ffe491" stroke="#000" stroke-width="1.8"/>
<rect x="113.6" y="449.78" width="22.6" height="87.82" fill="#fbccaa" stroke="#000" stroke-width="1.8"/>
<rect x="144.7" y="493.89" width="22.6" height="43.71" fill="#b5d6ee" stroke="#000" stroke-width="1.8"/>
<path d="M62.3 457.8V444.17M60 444.17H64.6" stroke="#000" stroke-width="1.7" fill="none"/>
<path d="M93.7 493.89V489.08M91.4 489.08H96" stroke="#000" stroke-width="1.7" fill="none"/>
<path d="M124.9 449.78V441.76M122.6 441.76H127.2" stroke="#000" stroke-width="1.7" fill="none"/>
<path d="M156 493.89V491.48M153.7 491.48H158.3" stroke="#000" stroke-width="1.7" fill="none"/>
<path d="M49.9 417.3H46.9V537.6H172" stroke="#000" stroke-width="1.9" fill="none" stroke-linejoin="round"/>
<text transform="rotate(0.05 37.5 540.6)" x="37.5" y="540.6" font-size="9.5" font-weight="bold" stroke="#000" stroke-width="0.2" text-anchor="end">0</text>
<line x1="46.9" x2="49.9" y1="513.54" y2="513.54" stroke="#000" stroke-width="1.6"/>
<text transform="rotate(0.05 37.5 516.54)" x="37.5" y="516.54" font-size="9.5" font-weight="bold" stroke="#000" stroke-width="0.2" text-anchor="end">0.3</text>
<line x1="46.9" x2="49.9" y1="489.48" y2="489.48" stroke="#000" stroke-width="1.6"/>
<text transform="rotate(0.05 37.5 492.48)" x="37.5" y="492.48" font-size="9.5" font-weight="bold" stroke="#000" stroke-width="0.2" text-anchor="end">0.6</text>
<line x1="46.9" x2="49.9" y1="465.42" y2="465.42" stroke="#000" stroke-width="1.6"/>
<text transform="rotate(0.05 37.5 468.42)" x="37.5" y="468.42" font-size="9.5" font-weight="bold" stroke="#000" stroke-width="0.2" text-anchor="end">0.9</text>
<line x1="46.9" x2="49.9" y1="441.36" y2="441.36" stroke="#000" stroke-width="1.6"/>
<text transform="rotate(0.05 37.5 444.36)" x="37.5" y="444.36" font-size="9.5" font-weight="bold" stroke="#000" stroke-width="0.2" text-anchor="end">1.2</text>
<text transform="rotate(0.05 37.5 420.3)" x="37.5" y="420.3" font-size="9.5" font-weight="bold" stroke="#000" stroke-width="0.2" text-anchor="end">1.5</text>
<text transform="translate(14 477) rotate(-90)" font-size="10" font-weight="bold" stroke="#000" stroke-width="0.25" text-anchor="middle"><tspan font-style="italic">PRE-MIR160B</tspan> Expression</text>
<text transform="rotate(0.05 94.26 484.6)" x="94.26" y="484.6" font-size="16" stroke="#000" stroke-width="0.35" letter-spacing="1.72" text-anchor="middle">*</text>
<text transform="rotate(0.05 156.56 484.6)" x="156.56" y="484.6" font-size="16" stroke="#000" stroke-width="0.35" letter-spacing="1.72" text-anchor="middle">**</text>
</g>
<g>
<text transform="rotate(0.05 189.4 399.4)" x="189.4" y="399.4" font-size="13.2" font-weight="bold">F.</text>
<line x1="232.1" x2="356.1" y1="513.54" y2="513.54" stroke="#d9d9d9" stroke-width="1.1"/>
<line x1="232.1" x2="356.1" y1="489.48" y2="489.48" stroke="#d9d9d9" stroke-width="1.1"/>
<line x1="232.1" x2="356.1" y1="465.42" y2="465.42" stroke="#d9d9d9" stroke-width="1.1"/>
<line x1="232.1" x2="356.1" y1="441.36" y2="441.36" stroke="#d9d9d9" stroke-width="1.1"/>
<line x1="232.1" x2="356.1" y1="417.3" y2="417.3" stroke="#d9d9d9" stroke-width="1.1"/>
<rect x="232.85" y="531.99" width="22.7" height="5.62" fill="#b9e0b1" stroke="#000" stroke-width="1.8"/>
<rect x="264.75" y="435.75" width="22.7" height="101.86" fill="#ffe491" stroke="#000" stroke-width="1.8"/>
<rect x="296.85" y="522.36" width="22.7" height="15.24" fill="#fbccaa" stroke="#000" stroke-width="1.8"/>
<rect x="328.85" y="510.33" width="22.7" height="27.27" fill="#b5d6ee" stroke="#000" stroke-width="1.8"/>
<path d="M244.2 531.99V530.78M241.9 530.78H246.5" stroke="#000" stroke-width="1.7" fill="none"/>
<path d="M276.1 435.75V430.93M273.8 430.93H278.4" stroke="#000" stroke-width="1.7" fill="none"/>
<path d="M308.2 522.36V519.96M305.9 519.96H310.5" stroke="#000" stroke-width="1.7" fill="none"/>
<path d="M340.2 510.33V507.93M337.9 507.93H342.5" stroke="#000" stroke-width="1.7" fill="none"/>
<path d="M232.1 417.3H229.1V537.6H356.1" stroke="#000" stroke-width="1.9" fill="none" stroke-linejoin="round"/>
<text transform="rotate(0.05 219.4 540.6)" x="219.4" y="540.6" font-size="9.5" font-weight="bold" stroke="#000" stroke-width="0.2" text-anchor="end">0.0</text>
<line x1="229.1" x2="232.1" y1="513.54" y2="513.54" stroke="#000" stroke-width="1.6"/>
<text transform="rotate(0.05 219.4 516.54)" x="219.4" y="516.54" font-size="9.5" font-weight="bold" stroke="#000" stroke-width="0.2" text-anchor="end">4.0</text>
<line x1="229.1" x2="232.1" y1="489.48" y2="489.48" stroke="#000" stroke-width="1.6"/>
<text transform="rotate(0.05 219.4 492.48)" x="219.4" y="492.48" font-size="9.5" font-weight="bold" stroke="#000" stroke-width="0.2" text-anchor="end">8.0</text>
<line x1="229.1" x2="232.1" y1="465.42" y2="465.42" stroke="#000" stroke-width="1.6"/>
<text transform="rotate(0.05 219.4 468.42)" x="219.4" y="468.42" font-size="9.5" font-weight="bold" stroke="#000" stroke-width="0.2" text-anchor="end">12.0</text>
<line x1="229.1" x2="232.1" y1="441.36" y2="441.36" stroke="#000" stroke-width="1.6"/>
<text transform="rotate(0.05 219.4 444.36)" x="219.4" y="444.36" font-size="9.5" font-weight="bold" stroke="#000" stroke-width="0.2" text-anchor="end">16.0</text>
<text transform="rotate(0.05 219.4 420.3)" x="219.4" y="420.3" font-size="9.5" font-weight="bold" stroke="#000" stroke-width="0.2" text-anchor="end">20.0</text>
<text transform="translate(198 476.7) rotate(-90)" font-size="10" font-weight="bold" stroke="#000" stroke-width="0.25" text-anchor="middle">miR160 Abundance</text>
<text transform="rotate(0.05 276.66 429.9)" x="276.66" y="429.9" font-size="16" stroke="#000" stroke-width="0.35" letter-spacing="1.72" text-anchor="middle">***</text>
<text transform="rotate(0.05 308.76 518)" x="308.76" y="518" font-size="16" stroke="#000" stroke-width="0.35" letter-spacing="1.72" text-anchor="middle">*</text>
<text transform="rotate(0.05 340.76 506.4)" x="340.76" y="506.4" font-size="16" stroke="#000" stroke-width="0.35" letter-spacing="1.72" text-anchor="middle">**</text>
</g>
<g>
<text transform="rotate(0.05 375.4 399.4)" x="375.4" y="399.4" font-size="13.2" font-weight="bold">G.</text>
<line x1="415.4" x2="543.9" y1="517.55" y2="517.55" stroke="#d9d9d9" stroke-width="1.1"/>
<line x1="415.4" x2="543.9" y1="497.5" y2="497.5" stroke="#d9d9d9" stroke-width="1.1"/>
<line x1="415.4" x2="543.9" y1="477.45" y2="477.45" stroke="#d9d9d9" stroke-width="1.1"/>
<line x1="415.4" x2="543.9" y1="457.4" y2="457.4" stroke="#d9d9d9" stroke-width="1.1"/>
<line x1="415.4" x2="543.9" y1="437.35" y2="437.35" stroke="#d9d9d9" stroke-width="1.1"/>
<line x1="415.4" x2="543.9" y1="417.3" y2="417.3" stroke="#d9d9d9" stroke-width="1.1"/>
<rect x="416.75" y="437.75" width="23.3" height="99.85" fill="#b9e0b1" stroke="#000" stroke-width="1.8"/>
<rect x="449.85" y="492.89" width="23.3" height="44.71" fill="#ffe491" stroke="#000" stroke-width="1.8"/>
<rect x="482.85" y="487.88" width="23.3" height="49.73" fill="#fbccaa" stroke="#000" stroke-width="1.8"/>
<rect x="515.8" y="517.95" width="23.3" height="19.65" fill="#b5d6ee" stroke="#000" stroke-width="1.8"/>
<path d="M428.4 437.75V427.72M426.1 427.72H430.7" stroke="#000" stroke-width="1.7" fill="none"/>
<path d="M461.5 492.89V488.88M459.2 488.88H463.8" stroke="#000" stroke-width="1.7" fill="none"/>
<path d="M494.5 487.88V486.87M492.2 486.87H496.8" stroke="#000" stroke-width="1.7" fill="none"/>
<path d="M527.45 517.95V507.93M525.15 507.93H529.75" stroke="#000" stroke-width="1.7" fill="none"/>
<path d="M415.4 417.3H412.4V537.6H543.9" stroke="#000" stroke-width="1.9" fill="none" stroke-linejoin="round"/>
<text transform="rotate(0.05 402.8 540.6)" x="402.8" y="540.6" font-size="9.5" font-weight="bold" stroke="#000" stroke-width="0.2" text-anchor="end">0.0</text>
<line x1="412.4" x2="415.4" y1="517.55" y2="517.55" stroke="#000" stroke-width="1.6"/>
<text transform="rotate(0.05 402.8 520.55)" x="402.8" y="520.55" font-size="9.5" font-weight="bold" stroke="#000" stroke-width="0.2" text-anchor="end">0.2</text>
<line x1="412.4" x2="415.4" y1="497.5" y2="497.5" stroke="#000" stroke-width="1.6"/>
<text transform="rotate(0.05 402.8 500.5)" x="402.8" y="500.5" font-size="9.5" font-weight="bold" stroke="#000" stroke-width="0.2" text-anchor="end">0.4</text>
<line x1="412.4" x2="415.4" y1="477.45" y2="477.45" stroke="#000" stroke-width="1.6"/>
<text transform="rotate(0.05 402.8 480.45)" x="402.8" y="480.45" font-size="9.5" font-weight="bold" stroke="#000" stroke-width="0.2" text-anchor="end">0.6</text>
<line x1="412.4" x2="415.4" y1="457.4" y2="457.4" stroke="#000" stroke-width="1.6"/>
<text transform="rotate(0.05 402.8 460.4)" x="402.8" y="460.4" font-size="9.5" font-weight="bold" stroke="#000" stroke-width="0.2" text-anchor="end">0.8</text>
<line x1="412.4" x2="415.4" y1="437.35" y2="437.35" stroke="#000" stroke-width="1.6"/>
<text transform="rotate(0.05 402.8 440.35)" x="402.8" y="440.35" font-size="9.5" font-weight="bold" stroke="#000" stroke-width="0.2" text-anchor="end">1.0</text>
<text transform="rotate(0.05 402.8 420.3)" x="402.8" y="420.3" font-size="9.5" font-weight="bold" stroke="#000" stroke-width="0.2" text-anchor="end">1.2</text>
<text transform="translate(383 478) rotate(-90)" font-size="10" font-weight="bold" stroke="#000" stroke-width="0.25" text-anchor="middle"><tspan font-style="italic">eTM160-1</tspan> Expression</text>
<text transform="rotate(0.05 462.06 485.6)" x="462.06" y="485.6" font-size="16" stroke="#000" stroke-width="0.35" letter-spacing="1.72" text-anchor="middle">**</text>
<text transform="rotate(0.05 495.06 482)" x="495.06" y="482" font-size="16" stroke="#000" stroke-width="0.35" letter-spacing="1.72" text-anchor="middle">**</text>
<text transform="rotate(0.05 528.01 505.4)" x="528.01" y="505.4" font-size="16" stroke="#000" stroke-width="0.35" letter-spacing="1.72" text-anchor="middle">***</text>
</g>
<g>
<text transform="rotate(0.05 6 567.3)" x="6" y="567.3" font-size="13.2" font-weight="bold">H.</text>
<line x1="49.9" x2="172" y1="681.52" y2="681.52" stroke="#d9d9d9" stroke-width="1.1"/>
<line x1="49.9" x2="172" y1="657.44" y2="657.44" stroke="#d9d9d9" stroke-width="1.1"/>
<line x1="49.9" x2="172" y1="633.36" y2="633.36" stroke="#d9d9d9" stroke-width="1.1"/>
<line x1="49.9" x2="172" y1="609.28" y2="609.28" stroke="#d9d9d9" stroke-width="1.1"/>
<line x1="49.9" x2="172" y1="585.2" y2="585.2" stroke="#d9d9d9" stroke-width="1.1"/>
<rect x="51" y="658.04" width="22.6" height="47.56" fill="#b9e0b1" stroke="#000" stroke-width="1.8"/>
<rect x="82.4" y="677.3" width="22.6" height="28.3" fill="#ffe491" stroke="#000" stroke-width="1.8"/>
<rect x="113.6" y="612.29" width="22.6" height="93.31" fill="#fbccaa" stroke="#000" stroke-width="1.8"/>
<rect x="144.7" y="665.26" width="22.6" height="40.34" fill="#b5d6ee" stroke="#000" stroke-width="1.8"/>
<path d="M62.3 658.04V655.15M60 655.15H64.6" stroke="#000" stroke-width="1.7" fill="none"/>
<path d="M93.7 677.3V671.52M91.4 671.52H96" stroke="#000" stroke-width="1.7" fill="none"/>
<path d="M124.9 612.29V610.84M122.6 610.84H127.2" stroke="#000" stroke-width="1.7" fill="none"/>
<path d="M156 665.26V660.45M153.7 660.45H158.3" stroke="#000" stroke-width="1.7" fill="none"/>
<path d="M49.9 585.2H46.9V705.6H172" stroke="#000" stroke-width="1.9" fill="none" stroke-linejoin="round"/>
<text transform="rotate(0.05 37.5 708.6)" x="37.5" y="708.6" font-size="9.5" font-weight="bold" stroke="#000" stroke-width="0.2" text-anchor="end">0.0</text>
<line x1="46.9" x2="49.9" y1="681.52" y2="681.52" stroke="#000" stroke-width="1.6"/>
<text transform="rotate(0.05 37.5 684.52)" x="37.5" y="684.52" font-size="9.5" font-weight="bold" stroke="#000" stroke-width="0.2" text-anchor="end">0.5</text>
<line x1="46.9" x2="49.9" y1="657.44" y2="657.44" stroke="#000" stroke-width="1.6"/>
<text transform="rotate(0.05 37.5 660.44)" x="37.5" y="660.44" font-size="9.5" font-weight="bold" stroke="#000" stroke-width="0.2" text-anchor="end">1.0</text>
<line x1="46.9" x2="49.9" y1="633.36" y2="633.36" stroke="#000" stroke-width="1.6"/>
<text transform="rotate(0.05 37.5 636.36)" x="37.5" y="636.36" font-size="9.5" font-weight="bold" stroke="#000" stroke-width="0.2" text-anchor="end">1.5</text>
<line x1="46.9" x2="49.9" y1="609.28" y2="609.28" stroke="#000" stroke-width="1.6"/>
<text transform="rotate(0.05 37.5 612.28)" x="37.5" y="612.28" font-size="9.5" font-weight="bold" stroke="#000" stroke-width="0.2" text-anchor="end">2.0</text>
<text transform="rotate(0.05 37.5 588.2)" x="37.5" y="588.2" font-size="9.5" font-weight="bold" stroke="#000" stroke-width="0.2" text-anchor="end">2.5</text>
<text transform="translate(14 645) rotate(-90)" font-size="10" font-weight="bold" stroke="#000" stroke-width="0.25" text-anchor="middle"><tspan font-style="italic">eTM160-2</tspan> Expression</text>
<text transform="rotate(0.05 94.26 669.5)" x="94.26" y="669.5" font-size="16" stroke="#000" stroke-width="0.35" letter-spacing="1.72" text-anchor="middle">*</text>
<text transform="rotate(0.05 125.46 605)" x="125.46" y="605" font-size="16" stroke="#000" stroke-width="0.35" letter-spacing="1.72" text-anchor="middle">***</text>
</g>
<g>
<text transform="rotate(0.05 189.4 567.3)" x="189.4" y="567.3" font-size="13.2" font-weight="bold">I.</text>
<line x1="232.1" x2="356.5" y1="675.5" y2="675.5" stroke="#d9d9d9" stroke-width="1.1"/>
<line x1="232.1" x2="356.5" y1="645.4" y2="645.4" stroke="#d9d9d9" stroke-width="1.1"/>
<line x1="232.1" x2="356.5" y1="615.3" y2="615.3" stroke="#d9d9d9" stroke-width="1.1"/>
<line x1="232.1" x2="356.5" y1="585.2" y2="585.2" stroke="#d9d9d9" stroke-width="1.1"/>
<rect x="232.8" y="676.1" width="22.8" height="29.5" fill="#b9e0b1" stroke="#000" stroke-width="1.8"/>
<rect x="264.8" y="691.15" width="22.8" height="14.45" fill="#ffe491" stroke="#000" stroke-width="1.8"/>
<rect x="296.9" y="603.86" width="22.8" height="101.74" fill="#fbccaa" stroke="#000" stroke-width="1.8"/>
<rect x="328.9" y="698.68" width="22.8" height="6.92" fill="#b5d6ee" stroke="#000" stroke-width="1.8"/>
<path d="M244.2 676.1V670.08M241.9 670.08H246.5" stroke="#000" stroke-width="1.7" fill="none"/>
<path d="M276.2 691.15V683.62M273.9 683.62H278.5" stroke="#000" stroke-width="1.7" fill="none"/>
<path d="M308.3 603.86V596.34M306 596.34H310.6" stroke="#000" stroke-width="1.7" fill="none"/>
<path d="M340.3 698.68V692.66M338 692.66H342.6" stroke="#000" stroke-width="1.7" fill="none"/>
<path d="M232.1 585.2H229.1V705.6H356.5" stroke="#000" stroke-width="1.9" fill="none" stroke-linejoin="round"/>
<text transform="rotate(0.05 219.4 708.6)" x="219.4" y="708.6" font-size="9.5" font-weight="bold" stroke="#000" stroke-width="0.2" text-anchor="end">0.0</text>
<line x1="229.1" x2="232.1" y1="675.5" y2="675.5" stroke="#000" stroke-width="1.6"/>
<text transform="rotate(0.05 219.4 678.5)" x="219.4" y="678.5" font-size="9.5" font-weight="bold" stroke="#000" stroke-width="0.2" text-anchor="end">1.0</text>
<line x1="229.1" x2="232.1" y1="645.4" y2="645.4" stroke="#000" stroke-width="1.6"/>
<text transform="rotate(0.05 219.4 648.4)" x="219.4" y="648.4" font-size="9.5" font-weight="bold" stroke="#000" stroke-width="0.2" text-anchor="end">2.0</text>
<line x1="229.1" x2="232.1" y1="615.3" y2="615.3" stroke="#000" stroke-width="1.6"/>
<text transform="rotate(0.05 219.4 618.3)" x="219.4" y="618.3" font-size="9.5" font-weight="bold" stroke="#000" stroke-width="0.2" text-anchor="end">3.0</text>
<text transform="rotate(0.05 219.4 588.2)" x="219.4" y="588.2" font-size="9.5" font-weight="bold" stroke="#000" stroke-width="0.2" text-anchor="end">4.0</text>
<text transform="translate(197.6 647.5) rotate(-90)" font-size="10" font-weight="bold" stroke="#000" stroke-width="0.25" text-anchor="middle"><tspan font-style="italic">ARF10</tspan> Expression</text>
<text transform="rotate(0.05 276.76 681.6)" x="276.76" y="681.6" font-size="16" stroke="#000" stroke-width="0.35" letter-spacing="1.72" text-anchor="middle">*</text>
<text transform="rotate(0.05 308.86 595.6)" x="308.86" y="595.6" font-size="16" stroke="#000" stroke-width="0.35" letter-spacing="1.72" text-anchor="middle">***</text>
<text transform="rotate(0.05 340.86 690.4)" x="340.86" y="690.4" font-size="16" stroke="#000" stroke-width="0.35" letter-spacing="1.72" text-anchor="middle">*</text>
</g>
<g>
<text transform="rotate(0.05 375.4 567.3)" x="375.4" y="567.3" font-size="13.2" font-weight="bold">J.</text>
<line x1="414.9" x2="544.4" y1="675.5" y2="675.5" stroke="#d9d9d9" stroke-width="1.1"/>
<line x1="414.9" x2="544.4" y1="645.4" y2="645.4" stroke="#d9d9d9" stroke-width="1.1"/>
<line x1="414.9" x2="544.4" y1="615.3" y2="615.3" stroke="#d9d9d9" stroke-width="1.1"/>
<line x1="414.9" x2="544.4" y1="585.2" y2="585.2" stroke="#d9d9d9" stroke-width="1.1"/>
<rect x="416.25" y="676.1" width="23.5" height="29.5" fill="#b9e0b1" stroke="#000" stroke-width="1.8"/>
<rect x="449.25" y="698.68" width="23.5" height="6.92" fill="#ffe491" stroke="#000" stroke-width="1.8"/>
<rect x="482.75" y="695.67" width="23.5" height="9.93" fill="#fbccaa" stroke="#000" stroke-width="1.8"/>
<rect x="515.85" y="624.93" width="23.5" height="80.67" fill="#b5d6ee" stroke="#000" stroke-width="1.8"/>
<path d="M428 676.1V673.09M425.7 673.09H430.3" stroke="#000" stroke-width="1.7" fill="none"/>
<path d="M461 698.68V696.57M458.7 696.57H463.3" stroke="#000" stroke-width="1.7" fill="none"/>
<path d="M494.5 695.67V694.46M492.2 694.46H496.8" stroke="#000" stroke-width="1.7" fill="none"/>
<path d="M527.6 624.93V603.86M525.3 603.86H529.9" stroke="#000" stroke-width="1.7" fill="none"/>
<path d="M414.9 585.2H411.9V705.6H544.4" stroke="#000" stroke-width="1.9" fill="none" stroke-linejoin="round"/>
<text transform="rotate(0.05 402.4 708.6)" x="402.4" y="708.6" font-size="9.5" font-weight="bold" stroke="#000" stroke-width="0.2" text-anchor="end">0.0</text>
<line x1="411.9" x2="414.9" y1="675.5" y2="675.5" stroke="#000" stroke-width="1.6"/>
<text transform="rotate(0.05 402.4 678.5)" x="402.4" y="678.5" font-size="9.5" font-weight="bold" stroke="#000" stroke-width="0.2" text-anchor="end">1.0</text>
<line x1="411.9" x2="414.9" y1="645.4" y2="645.4" stroke="#000" stroke-width="1.6"/>
<text transform="rotate(0.05 402.4 648.4)" x="402.4" y="648.4" font-size="9.5" font-weight="bold" stroke="#000" stroke-width="0.2" text-anchor="end">2.0</text>
<line x1="411.9" x2="414.9" y1="615.3" y2="615.3" stroke="#000" stroke-width="1.6"/>
<text transform="rotate(0.05 402.4 618.3)" x="402.4" y="618.3" font-size="9.5" font-weight="bold" stroke="#000" stroke-width="0.2" text-anchor="end">3.0</text>
<text transform="rotate(0.05 402.4 588.2)" x="402.4" y="588.2" font-size="9.5" font-weight="bold" stroke="#000" stroke-width="0.2" text-anchor="end">4.0</text>
<text transform="translate(383 646) rotate(-90)" font-size="10" font-weight="bold" stroke="#000" stroke-width="0.25" text-anchor="middle"><tspan font-style="italic">ARF16</tspan> Expression</text>
<text transform="rotate(0.05 461.56 693.4)" x="461.56" y="693.4" font-size="16" stroke="#000" stroke-width="0.35" letter-spacing="1.72" text-anchor="middle">**</text>
<text transform="rotate(0.05 495.06 693.4)" x="495.06" y="693.4" font-size="16" stroke="#000" stroke-width="0.35" letter-spacing="1.72" text-anchor="middle">**</text>
<text transform="rotate(0.05 528.16 602)" x="528.16" y="602" font-size="16" stroke="#000" stroke-width="0.35" letter-spacing="1.72" text-anchor="middle">*</text>
</g>
<text transform="rotate(0.05 51 731.3)" x="51" y="731.3" font-size="10" font-weight="bold" font-style="italic">Key:</text>
<rect x="95.8" y="722" width="22.8" height="11.7" fill="#b9e0b1" stroke="#000" stroke-width="1.9"/>
<text transform="rotate(0.05 126.3 731.3)" x="126.3" y="731.3" font-size="10" font-weight="bold" font-style="italic">drb2</text>
<rect x="184" y="722" width="22" height="11.7" fill="#ffe491" stroke="#000" stroke-width="1.9"/>
<text transform="rotate(0.05 214.6 731.3)" x="214.6" y="731.3" font-size="10" font-weight="bold" font-style="italic">drb2/MIR160B</text>
<rect x="317.3" y="722" width="22.3" height="11.7" fill="#fbccaa" stroke="#000" stroke-width="1.9"/>
<text transform="rotate(0.05 347.8 731.3)" x="347.8" y="731.3" font-size="10" font-weight="bold" font-style="italic">drb2/mARF10</text>
<rect x="449.6" y="722" width="22.1" height="11.7" fill="#b5d6ee" stroke="#000" stroke-width="1.9"/>
<text transform="rotate(0.05 480.2 731.3)" x="480.2" y="731.3" font-size="10" font-weight="bold" font-style="italic">drb2/mARF16</text>
<line x1="46" x2="544.6" y1="743.5" y2="743.5" stroke="#000" stroke-width="2"/>
</svg></body></html>
